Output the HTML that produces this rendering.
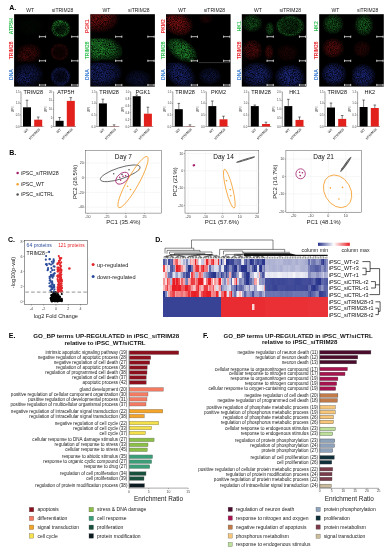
<!DOCTYPE html>
<html><head><meta charset="utf-8"><title>Figure</title>
<style>html,body{margin:0;padding:0;background:#fff;width:389px;height:550px;overflow:hidden}
svg{display:block;filter:blur(0.25px);font-family:"Liberation Sans",Arial,sans-serif}</style></head>
<body><svg width="389" height="550" viewBox="0 0 389 550" font-family="'Liberation Sans', Arial, sans-serif"><defs><radialGradient id="gfill"><stop offset="0" stop-color="#fff" stop-opacity="1"/><stop offset="0.5" stop-color="#fff" stop-opacity="0.85"/><stop offset="0.82" stop-color="#fff" stop-opacity="0.4"/><stop offset="1" stop-color="#fff" stop-opacity="0"/></radialGradient><radialGradient id="gring"><stop offset="0" stop-color="#fff" stop-opacity="0.25"/><stop offset="0.55" stop-color="#fff" stop-opacity="0.45"/><stop offset="0.8" stop-color="#fff" stop-opacity="1"/><stop offset="1" stop-color="#fff" stop-opacity="0"/></radialGradient><filter id="nz" x="0" y="0" width="1" height="1" color-interpolation-filters="sRGB"><feTurbulence type="fractalNoise" baseFrequency="1.25" numOctaves="1" seed="4" result="t"/><feColorMatrix in="t" type="matrix" values="0 0 0 0 0  0 0 0 0 0  0 0 0 0 0  2.2 0 0 0 -0.5" result="a"/><feComposite in="SourceGraphic" in2="a" operator="in" result="s"/><feGaussianBlur in="s" stdDeviation="0.3"/></filter><clipPath id="c1"><rect x="14.1" y="14.2" width="32.3" height="24.1"/></clipPath><mask id="m1_0" maskContentUnits="userSpaceOnUse"><ellipse cx="30" cy="26" rx="14" ry="10" fill="url(#gfill)" transform="rotate(0 30 26)"/></mask><clipPath id="c2"><rect x="46.4" y="14.2" width="32.3" height="24.1"/></clipPath><mask id="m2_0" maskContentUnits="userSpaceOnUse"><ellipse cx="60.7" cy="28.6" rx="10" ry="9.4" fill="url(#gring)" transform="rotate(0 60.7 28.6)"/></mask><mask id="m2_1" maskContentUnits="userSpaceOnUse"><ellipse cx="58" cy="23" rx="6" ry="4" fill="url(#gfill)" transform="rotate(0 58 23)"/></mask><clipPath id="c3"><rect x="14.1" y="38.3" width="32.3" height="24.1"/></clipPath><mask id="m3_0" maskContentUnits="userSpaceOnUse"><ellipse cx="29" cy="53" rx="13" ry="10" fill="url(#gfill)" transform="rotate(0 29 53)"/></mask><mask id="m3_1" maskContentUnits="userSpaceOnUse"><ellipse cx="22" cy="58" rx="8" ry="5" fill="url(#gfill)" transform="rotate(0 22 58)"/></mask><clipPath id="c4"><rect x="46.4" y="38.3" width="32.3" height="24.1"/></clipPath><mask id="m4_0" maskContentUnits="userSpaceOnUse"><ellipse cx="59.5" cy="52" rx="9.5" ry="9" fill="url(#gring)" transform="rotate(0 59.5 52)"/></mask><clipPath id="c5"><rect x="14.1" y="62.4" width="32.3" height="24.2"/></clipPath><mask id="m5_0" maskContentUnits="userSpaceOnUse"><ellipse cx="28" cy="75" rx="16" ry="13" fill="url(#gfill)" transform="rotate(0 28 75)"/></mask><mask id="m5_1" maskContentUnits="userSpaceOnUse"><ellipse cx="22" cy="80" rx="9" ry="6" fill="url(#gfill)" transform="rotate(0 22 80)"/></mask><clipPath id="c6"><rect x="46.4" y="62.4" width="32.3" height="24.2"/></clipPath><mask id="m6_0" maskContentUnits="userSpaceOnUse"><ellipse cx="60.5" cy="76.5" rx="10.5" ry="10" fill="url(#gring)" transform="rotate(0 60.5 76.5)"/></mask><clipPath id="c7"><rect x="90.3" y="14.2" width="32.3" height="24.1"/></clipPath><mask id="m7_0" maskContentUnits="userSpaceOnUse"><ellipse cx="96" cy="16" rx="24" ry="17" fill="url(#gfill)" transform="rotate(10 96 16)"/></mask><mask id="m7_1" maskContentUnits="userSpaceOnUse"><ellipse cx="94" cy="15" rx="10" ry="7" fill="url(#gfill)" transform="rotate(0 94 15)"/></mask><clipPath id="c8"><rect x="90.3" y="38.3" width="32.3" height="24.1"/></clipPath><mask id="m8_0" maskContentUnits="userSpaceOnUse"><ellipse cx="101" cy="47" rx="24" ry="13" fill="url(#gfill)" transform="rotate(18 101 47)"/></mask><mask id="m8_1" maskContentUnits="userSpaceOnUse"><ellipse cx="96" cy="55" rx="9" ry="7" fill="url(#gfill)" transform="rotate(0 96 55)"/></mask><clipPath id="c9"><rect x="90.3" y="62.4" width="32.3" height="24.2"/></clipPath><mask id="m9_0" maskContentUnits="userSpaceOnUse"><ellipse cx="101" cy="73" rx="22" ry="15" fill="url(#gfill)" transform="rotate(0 101 73)"/></mask><clipPath id="c10"><rect x="122.6" y="62.4" width="32.3" height="24.2"/></clipPath><mask id="m10_0" maskContentUnits="userSpaceOnUse"><ellipse cx="138" cy="79" rx="14" ry="10" fill="url(#gfill)" transform="rotate(0 138 79)"/></mask><clipPath id="c11"><rect x="166" y="14.2" width="32.3" height="24.1"/></clipPath><mask id="m11_0" maskContentUnits="userSpaceOnUse"><ellipse cx="178" cy="24" rx="16" ry="12" fill="url(#gfill)" transform="rotate(20 178 24)"/></mask><mask id="m11_1" maskContentUnits="userSpaceOnUse"><ellipse cx="172" cy="20" rx="8" ry="6" fill="url(#gfill)" transform="rotate(0 172 20)"/></mask><clipPath id="c12"><rect x="198.3" y="14.2" width="32.3" height="24.1"/></clipPath><mask id="m12_0" maskContentUnits="userSpaceOnUse"><ellipse cx="206" cy="19" rx="8" ry="5" fill="url(#gfill)" transform="rotate(0 206 19)"/></mask><clipPath id="c13"><rect x="166" y="38.3" width="32.3" height="24.1"/></clipPath><mask id="m13_0" maskContentUnits="userSpaceOnUse"><ellipse cx="182" cy="50" rx="18" ry="10.5" fill="url(#gfill)" transform="rotate(35 182 50)"/></mask><clipPath id="c14"><rect x="166" y="62.4" width="32.3" height="24.2"/></clipPath><mask id="m14_0" maskContentUnits="userSpaceOnUse"><ellipse cx="180" cy="74" rx="18" ry="12.5" fill="url(#gfill)" transform="rotate(40 180 74)"/></mask><clipPath id="c15"><rect x="198.3" y="62.4" width="32.3" height="24.2"/></clipPath><mask id="m15_0" maskContentUnits="userSpaceOnUse"><ellipse cx="210" cy="76" rx="12" ry="9" fill="url(#gfill)" transform="rotate(0 210 76)"/></mask><clipPath id="c16"><rect x="241.8" y="14.2" width="32.3" height="24.1"/></clipPath><mask id="m16_0" maskContentUnits="userSpaceOnUse"><ellipse cx="252" cy="23" rx="11" ry="9.5" fill="url(#gfill)" transform="rotate(0 252 23)"/></mask><mask id="m16_1" maskContentUnits="userSpaceOnUse"><ellipse cx="270" cy="29" rx="5" ry="7.5" fill="url(#gfill)" transform="rotate(0 270 29)"/></mask><clipPath id="c17"><rect x="274.1" y="14.2" width="32.3" height="24.1"/></clipPath><mask id="m17_0" maskContentUnits="userSpaceOnUse"><ellipse cx="290" cy="26" rx="15" ry="11" fill="url(#gring)" transform="rotate(0 290 26)"/></mask><mask id="m17_1" maskContentUnits="userSpaceOnUse"><ellipse cx="288" cy="25" rx="9" ry="7" fill="url(#gfill)" transform="rotate(0 288 25)"/></mask><clipPath id="c18"><rect x="241.8" y="38.3" width="32.3" height="24.1"/></clipPath><mask id="m18_0" maskContentUnits="userSpaceOnUse"><ellipse cx="252" cy="50" rx="11" ry="11" fill="url(#gfill)" transform="rotate(0 252 50)"/></mask><mask id="m18_1" maskContentUnits="userSpaceOnUse"><ellipse cx="269" cy="52" rx="5" ry="8" fill="url(#gfill)" transform="rotate(0 269 52)"/></mask><clipPath id="c19"><rect x="274.1" y="38.3" width="32.3" height="24.1"/></clipPath><mask id="m19_0" maskContentUnits="userSpaceOnUse"><ellipse cx="287" cy="53" rx="12" ry="9" fill="url(#gfill)" transform="rotate(0 287 53)"/></mask><clipPath id="c20"><rect x="241.8" y="62.4" width="32.3" height="24.2"/></clipPath><mask id="m20_0" maskContentUnits="userSpaceOnUse"><ellipse cx="257" cy="75" rx="17" ry="13.5" fill="url(#gfill)" transform="rotate(0 257 75)"/></mask><clipPath id="c21"><rect x="274.1" y="62.4" width="32.3" height="24.2"/></clipPath><mask id="m21_0" maskContentUnits="userSpaceOnUse"><ellipse cx="290" cy="77" rx="16" ry="13" fill="url(#gfill)" transform="rotate(0 290 77)"/></mask><clipPath id="c22"><rect x="319.2" y="14.2" width="32.3" height="24.1"/></clipPath><mask id="m22_0" maskContentUnits="userSpaceOnUse"><ellipse cx="333" cy="24" rx="11" ry="10.5" fill="url(#gfill)" transform="rotate(0 333 24)"/></mask><clipPath id="c23"><rect x="351.5" y="14.2" width="32.3" height="24.1"/></clipPath><mask id="m23_0" maskContentUnits="userSpaceOnUse"><ellipse cx="364" cy="25" rx="10" ry="11.5" fill="url(#gfill)" transform="rotate(0 364 25)"/></mask><clipPath id="c24"><rect x="319.2" y="38.3" width="32.3" height="24.1"/></clipPath><mask id="m24_0" maskContentUnits="userSpaceOnUse"><ellipse cx="333" cy="48" rx="11.5" ry="10.5" fill="url(#gfill)" transform="rotate(0 333 48)"/></mask><clipPath id="c25"><rect x="351.5" y="38.3" width="32.3" height="24.1"/></clipPath><mask id="m25_0" maskContentUnits="userSpaceOnUse"><ellipse cx="362" cy="49" rx="9" ry="9" fill="url(#gfill)" transform="rotate(0 362 49)"/></mask><clipPath id="c26"><rect x="319.2" y="62.4" width="32.3" height="24.2"/></clipPath><mask id="m26_0" maskContentUnits="userSpaceOnUse"><ellipse cx="334" cy="74" rx="13" ry="12.5" fill="url(#gfill)" transform="rotate(0 334 74)"/></mask><clipPath id="c27"><rect x="351.5" y="62.4" width="32.3" height="24.2"/></clipPath><mask id="m27_0" maskContentUnits="userSpaceOnUse"><ellipse cx="363" cy="76" rx="13" ry="12.5" fill="url(#gfill)" transform="rotate(0 363 76)"/></mask><linearGradient id="cbar"><stop offset="0" stop-color="#28348c"/><stop offset="0.5" stop-color="#ffffff"/><stop offset="1" stop-color="#e81e24"/></linearGradient></defs><rect width="389" height="550" fill="#fff"/><text x="9.2" y="9.9" font-size="7" fill="#000" font-weight="bold">A.</text>
<rect x="14.1" y="14.2" width="64.6" height="72.4" fill="#000"/>
<g clip-path="url(#c1)"><g filter="url(#nz)">
<rect x="14.1" y="14.2" width="32.3" height="24.1" fill="none" opacity="0"/>
<rect x="14.1" y="14.2" width="32.3" height="24.1" fill="rgb(45,185,60)" opacity="0.05" mask="url(#m1_0)"/>
</g></g>
<path d="M39 36.7H46M39.4 35.6v2.2M45.6 35.6v2.2" stroke="#c8c8c8" stroke-width="0.9" fill="none"/>
<g clip-path="url(#c2)"><g filter="url(#nz)">
<rect x="46.4" y="14.2" width="32.3" height="24.1" fill="none" opacity="0"/>
<rect x="46.4" y="14.2" width="32.3" height="24.1" fill="rgb(45,185,60)" opacity="0.62" mask="url(#m2_0)"/>
<rect x="46.4" y="14.2" width="32.3" height="24.1" fill="rgb(45,185,60)" opacity="0.35" mask="url(#m2_1)"/>
</g></g>
<path d="M71.3 36.7H78.3M71.7 35.6v2.2M77.9 35.6v2.2" stroke="#c8c8c8" stroke-width="0.9" fill="none"/>
<g clip-path="url(#c3)"><g filter="url(#nz)">
<rect x="14.1" y="38.3" width="32.3" height="24.1" fill="none" opacity="0"/>
<rect x="14.1" y="38.3" width="32.3" height="24.1" fill="rgb(195,28,28)" opacity="0.36" mask="url(#m3_0)"/>
<rect x="14.1" y="38.3" width="32.3" height="24.1" fill="rgb(195,28,28)" opacity="0.2" mask="url(#m3_1)"/>
</g></g>
<path d="M39 60.8H46M39.4 59.7v2.2M45.6 59.7v2.2" stroke="#c8c8c8" stroke-width="0.9" fill="none"/>
<g clip-path="url(#c4)"><g filter="url(#nz)">
<rect x="46.4" y="38.3" width="32.3" height="24.1" fill="none" opacity="0"/>
<rect x="46.4" y="38.3" width="32.3" height="24.1" fill="rgb(195,28,28)" opacity="0.26" mask="url(#m4_0)"/>
</g></g>
<path d="M71.3 60.8H78.3M71.7 59.7v2.2M77.9 59.7v2.2" stroke="#c8c8c8" stroke-width="0.9" fill="none"/>
<g clip-path="url(#c5)"><g filter="url(#nz)">
<rect x="14.1" y="62.4" width="32.3" height="24.2" fill="none" opacity="0"/>
<rect x="14.1" y="62.4" width="32.3" height="24.2" fill="rgb(48,68,205)" opacity="0.42" mask="url(#m5_0)"/>
<rect x="14.1" y="62.4" width="32.3" height="24.2" fill="rgb(48,68,205)" opacity="0.25" mask="url(#m5_1)"/>
</g></g>
<path d="M39 85H46M39.4 83.9v2.2M45.6 83.9v2.2" stroke="#c8c8c8" stroke-width="0.9" fill="none"/>
<g clip-path="url(#c6)"><g filter="url(#nz)">
<rect x="46.4" y="62.4" width="32.3" height="24.2" fill="none" opacity="0"/>
<rect x="46.4" y="62.4" width="32.3" height="24.2" fill="rgb(48,68,205)" opacity="0.48" mask="url(#m6_0)"/>
</g></g>
<path d="M71.3 85H78.3M71.7 83.9v2.2M77.9 83.9v2.2" stroke="#c8c8c8" stroke-width="0.9" fill="none"/>
<text x="30.25" y="12" font-size="5" fill="#222" text-anchor="middle">WT</text>
<text x="62.55" y="12" font-size="5" fill="#222" text-anchor="middle">siTRIM28</text>
<text x="12.9" y="26.25" font-size="5" fill="#2fbf4f" text-anchor="middle" font-weight="bold" transform="rotate(-90 12.9 26.25)">ATP5H</text>
<text x="12.9" y="50.35" font-size="5" fill="#e8262c" text-anchor="middle" font-weight="bold" transform="rotate(-90 12.9 50.35)">TRIM28</text>
<text x="12.9" y="74.5" font-size="5" fill="#3b7fd4" text-anchor="middle" font-weight="bold" transform="rotate(-90 12.9 74.5)">DNA</text>
<rect x="90.3" y="14.2" width="64.6" height="72.4" fill="#000"/>
<g clip-path="url(#c7)"><g filter="url(#nz)">
<rect x="90.3" y="14.2" width="32.3" height="24.1" fill="none" opacity="0"/>
<rect x="90.3" y="14.2" width="32.3" height="24.1" fill="rgb(195,28,28)" opacity="0.62" mask="url(#m7_0)"/>
<rect x="90.3" y="14.2" width="32.3" height="24.1" fill="rgb(195,28,28)" opacity="0.3" mask="url(#m7_1)"/>
</g></g>
<path d="M115.2 36.7H122.2M115.6 35.6v2.2M121.8 35.6v2.2" stroke="#c8c8c8" stroke-width="0.9" fill="none"/>
<path d="M147.5 36.7H154.5M147.9 35.6v2.2M154.1 35.6v2.2" stroke="#c8c8c8" stroke-width="0.9" fill="none"/>
<g clip-path="url(#c8)"><g filter="url(#nz)">
<rect x="90.3" y="38.3" width="32.3" height="24.1" fill="none" opacity="0"/>
<rect x="90.3" y="38.3" width="32.3" height="24.1" fill="rgb(45,185,60)" opacity="0.75" mask="url(#m8_0)"/>
<rect x="90.3" y="38.3" width="32.3" height="24.1" fill="rgb(45,185,60)" opacity="0.4" mask="url(#m8_1)"/>
</g></g>
<path d="M115.2 60.8H122.2M115.6 59.7v2.2M121.8 59.7v2.2" stroke="#c8c8c8" stroke-width="0.9" fill="none"/>
<path d="M147.5 60.8H154.5M147.9 59.7v2.2M154.1 59.7v2.2" stroke="#c8c8c8" stroke-width="0.9" fill="none"/>
<g clip-path="url(#c9)"><g filter="url(#nz)">
<rect x="90.3" y="62.4" width="32.3" height="24.2" fill="none" opacity="0"/>
<rect x="90.3" y="62.4" width="32.3" height="24.2" fill="rgb(48,68,205)" opacity="0.55" mask="url(#m9_0)"/>
</g></g>
<path d="M115.2 85H122.2M115.6 83.9v2.2M121.8 83.9v2.2" stroke="#c8c8c8" stroke-width="0.9" fill="none"/>
<g clip-path="url(#c10)"><g filter="url(#nz)">
<rect x="122.6" y="62.4" width="32.3" height="24.2" fill="none" opacity="0"/>
<rect x="122.6" y="62.4" width="32.3" height="24.2" fill="rgb(48,68,205)" opacity="0.28" mask="url(#m10_0)"/>
</g></g>
<path d="M147.5 85H154.5M147.9 83.9v2.2M154.1 83.9v2.2" stroke="#c8c8c8" stroke-width="0.9" fill="none"/>
<text x="106.45" y="12" font-size="5" fill="#222" text-anchor="middle">WT</text>
<text x="138.75" y="12" font-size="5" fill="#222" text-anchor="middle">siTRIM28</text>
<text x="89.1" y="26.25" font-size="5" fill="#e8262c" text-anchor="middle" font-weight="bold" transform="rotate(-90 89.1 26.25)">PGK1</text>
<text x="89.1" y="50.35" font-size="5" fill="#2fbf4f" text-anchor="middle" font-weight="bold" transform="rotate(-90 89.1 50.35)">TRIM28</text>
<text x="89.1" y="74.5" font-size="5" fill="#3b7fd4" text-anchor="middle" font-weight="bold" transform="rotate(-90 89.1 74.5)">DNA</text>
<rect x="166" y="14.2" width="64.6" height="72.4" fill="#000"/>
<g clip-path="url(#c11)"><g filter="url(#nz)">
<rect x="166" y="14.2" width="32.3" height="24.1" fill="none" opacity="0"/>
<rect x="166" y="14.2" width="32.3" height="24.1" fill="rgb(195,28,28)" opacity="0.66" mask="url(#m11_0)"/>
<rect x="166" y="14.2" width="32.3" height="24.1" fill="rgb(195,28,28)" opacity="0.3" mask="url(#m11_1)"/>
</g></g>
<path d="M190.9 36.7H197.9M191.3 35.6v2.2M197.5 35.6v2.2" stroke="#c8c8c8" stroke-width="0.9" fill="none"/>
<g clip-path="url(#c12)"><g filter="url(#nz)">
<rect x="198.3" y="14.2" width="32.3" height="24.1" fill="none" opacity="0"/>
<rect x="198.3" y="14.2" width="32.3" height="24.1" fill="rgb(195,28,28)" opacity="0.18" mask="url(#m12_0)"/>
</g></g>
<path d="M223.2 36.7H230.2M223.6 35.6v2.2M229.8 35.6v2.2" stroke="#c8c8c8" stroke-width="0.9" fill="none"/>
<g clip-path="url(#c13)"><g filter="url(#nz)">
<rect x="166" y="38.3" width="32.3" height="24.1" fill="none" opacity="0"/>
<rect x="166" y="38.3" width="32.3" height="24.1" fill="rgb(45,185,60)" opacity="0.8" mask="url(#m13_0)"/>
</g></g>
<path d="M190.9 60.8H197.9M191.3 59.7v2.2M197.5 59.7v2.2" stroke="#c8c8c8" stroke-width="0.9" fill="none"/>
<path d="M223.2 60.8H230.2M223.6 59.7v2.2M229.8 59.7v2.2" stroke="#c8c8c8" stroke-width="0.9" fill="none"/>
<g clip-path="url(#c14)"><g filter="url(#nz)">
<rect x="166" y="62.4" width="32.3" height="24.2" fill="none" opacity="0"/>
<rect x="166" y="62.4" width="32.3" height="24.2" fill="rgb(48,68,205)" opacity="0.58" mask="url(#m14_0)"/>
</g></g>
<path d="M190.9 85H197.9M191.3 83.9v2.2M197.5 83.9v2.2" stroke="#c8c8c8" stroke-width="0.9" fill="none"/>
<g clip-path="url(#c15)"><g filter="url(#nz)">
<rect x="198.3" y="62.4" width="32.3" height="24.2" fill="none" opacity="0"/>
<rect x="198.3" y="62.4" width="32.3" height="24.2" fill="rgb(48,68,205)" opacity="0.32" mask="url(#m15_0)"/>
</g></g>
<path d="M223.2 85H230.2M223.6 83.9v2.2M229.8 83.9v2.2" stroke="#c8c8c8" stroke-width="0.9" fill="none"/>
<line x1="198.8" y1="62.6" x2="230.1" y2="62.6" stroke="#666" stroke-width="0.5"/>
<text x="182.15" y="12" font-size="5" fill="#222" text-anchor="middle">WT</text>
<text x="214.45" y="12" font-size="5" fill="#222" text-anchor="middle">siTRIM28</text>
<text x="164.8" y="26.25" font-size="5" fill="#e8262c" text-anchor="middle" font-weight="bold" transform="rotate(-90 164.8 26.25)">PKM2</text>
<text x="164.8" y="50.35" font-size="5" fill="#2fbf4f" text-anchor="middle" font-weight="bold" transform="rotate(-90 164.8 50.35)">TRIM28</text>
<text x="164.8" y="74.5" font-size="5" fill="#3b7fd4" text-anchor="middle" font-weight="bold" transform="rotate(-90 164.8 74.5)">DNA</text>
<rect x="241.8" y="14.2" width="64.6" height="72.4" fill="#000"/>
<g clip-path="url(#c16)"><g filter="url(#nz)">
<rect x="241.8" y="14.2" width="32.3" height="24.1" fill="none" opacity="0"/>
<rect x="241.8" y="14.2" width="32.3" height="24.1" fill="rgb(45,185,60)" opacity="0.48" mask="url(#m16_0)"/>
<rect x="241.8" y="14.2" width="32.3" height="24.1" fill="rgb(45,185,60)" opacity="0.42" mask="url(#m16_1)"/>
</g></g>
<path d="M266.7 36.7H273.7M267.1 35.6v2.2M273.3 35.6v2.2" stroke="#c8c8c8" stroke-width="0.9" fill="none"/>
<g clip-path="url(#c17)"><g filter="url(#nz)">
<rect x="274.1" y="14.2" width="32.3" height="24.1" fill="none" opacity="0"/>
<rect x="274.1" y="14.2" width="32.3" height="24.1" fill="rgb(45,185,60)" opacity="0.48" mask="url(#m17_0)"/>
<rect x="274.1" y="14.2" width="32.3" height="24.1" fill="rgb(45,185,60)" opacity="0.2" mask="url(#m17_1)"/>
</g></g>
<path d="M299 36.7H306M299.4 35.6v2.2M305.6 35.6v2.2" stroke="#c8c8c8" stroke-width="0.9" fill="none"/>
<g clip-path="url(#c18)"><g filter="url(#nz)">
<rect x="241.8" y="38.3" width="32.3" height="24.1" fill="none" opacity="0"/>
<rect x="241.8" y="38.3" width="32.3" height="24.1" fill="rgb(195,28,28)" opacity="0.45" mask="url(#m18_0)"/>
<rect x="241.8" y="38.3" width="32.3" height="24.1" fill="rgb(195,28,28)" opacity="0.38" mask="url(#m18_1)"/>
</g></g>
<path d="M266.7 60.8H273.7M267.1 59.7v2.2M273.3 59.7v2.2" stroke="#c8c8c8" stroke-width="0.9" fill="none"/>
<g clip-path="url(#c19)"><g filter="url(#nz)">
<rect x="274.1" y="38.3" width="32.3" height="24.1" fill="none" opacity="0"/>
<rect x="274.1" y="38.3" width="32.3" height="24.1" fill="rgb(195,28,28)" opacity="0.18" mask="url(#m19_0)"/>
</g></g>
<path d="M299 60.8H306M299.4 59.7v2.2M305.6 59.7v2.2" stroke="#c8c8c8" stroke-width="0.9" fill="none"/>
<g clip-path="url(#c20)"><g filter="url(#nz)">
<rect x="241.8" y="62.4" width="32.3" height="24.2" fill="none" opacity="0"/>
<rect x="241.8" y="62.4" width="32.3" height="24.2" fill="rgb(48,68,205)" opacity="0.6" mask="url(#m20_0)"/>
</g></g>
<path d="M266.7 85H273.7M267.1 83.9v2.2M273.3 83.9v2.2" stroke="#c8c8c8" stroke-width="0.9" fill="none"/>
<g clip-path="url(#c21)"><g filter="url(#nz)">
<rect x="274.1" y="62.4" width="32.3" height="24.2" fill="none" opacity="0"/>
<rect x="274.1" y="62.4" width="32.3" height="24.2" fill="rgb(48,68,205)" opacity="0.68" mask="url(#m21_0)"/>
</g></g>
<path d="M299 85H306M299.4 83.9v2.2M305.6 83.9v2.2" stroke="#c8c8c8" stroke-width="0.9" fill="none"/>
<text x="257.95" y="12" font-size="5" fill="#222" text-anchor="middle">WT</text>
<text x="290.25" y="12" font-size="5" fill="#222" text-anchor="middle">siTRIM28</text>
<text x="240.6" y="26.25" font-size="5" fill="#2fbf4f" text-anchor="middle" font-weight="bold" transform="rotate(-90 240.6 26.25)">HK1</text>
<text x="240.6" y="50.35" font-size="5" fill="#e8262c" text-anchor="middle" font-weight="bold" transform="rotate(-90 240.6 50.35)">TRIM28</text>
<text x="240.6" y="74.5" font-size="5" fill="#3b7fd4" text-anchor="middle" font-weight="bold" transform="rotate(-90 240.6 74.5)">DNA</text>
<rect x="319.2" y="14.2" width="64.6" height="72.4" fill="#000"/>
<g clip-path="url(#c22)"><g filter="url(#nz)">
<rect x="319.2" y="14.2" width="32.3" height="24.1" fill="none" opacity="0"/>
<rect x="319.2" y="14.2" width="32.3" height="24.1" fill="rgb(45,185,60)" opacity="0.52" mask="url(#m22_0)"/>
</g></g>
<path d="M344.1 36.7H351.1M344.5 35.6v2.2M350.7 35.6v2.2" stroke="#c8c8c8" stroke-width="0.9" fill="none"/>
<g clip-path="url(#c23)"><g filter="url(#nz)">
<rect x="351.5" y="14.2" width="32.3" height="24.1" fill="none" opacity="0"/>
<rect x="351.5" y="14.2" width="32.3" height="24.1" fill="rgb(45,185,60)" opacity="0.56" mask="url(#m23_0)"/>
</g></g>
<path d="M376.4 36.7H383.4M376.8 35.6v2.2M383 35.6v2.2" stroke="#c8c8c8" stroke-width="0.9" fill="none"/>
<g clip-path="url(#c24)"><g filter="url(#nz)">
<rect x="319.2" y="38.3" width="32.3" height="24.1" fill="none" opacity="0"/>
<rect x="319.2" y="38.3" width="32.3" height="24.1" fill="rgb(195,28,28)" opacity="0.5" mask="url(#m24_0)"/>
</g></g>
<path d="M344.1 60.8H351.1M344.5 59.7v2.2M350.7 59.7v2.2" stroke="#c8c8c8" stroke-width="0.9" fill="none"/>
<g clip-path="url(#c25)"><g filter="url(#nz)">
<rect x="351.5" y="38.3" width="32.3" height="24.1" fill="none" opacity="0"/>
<rect x="351.5" y="38.3" width="32.3" height="24.1" fill="rgb(195,28,28)" opacity="0.25" mask="url(#m25_0)"/>
</g></g>
<path d="M376.4 60.8H383.4M376.8 59.7v2.2M383 59.7v2.2" stroke="#c8c8c8" stroke-width="0.9" fill="none"/>
<g clip-path="url(#c26)"><g filter="url(#nz)">
<rect x="319.2" y="62.4" width="32.3" height="24.2" fill="none" opacity="0"/>
<rect x="319.2" y="62.4" width="32.3" height="24.2" fill="rgb(48,68,205)" opacity="0.62" mask="url(#m26_0)"/>
</g></g>
<path d="M344.1 85H351.1M344.5 83.9v2.2M350.7 83.9v2.2" stroke="#c8c8c8" stroke-width="0.9" fill="none"/>
<g clip-path="url(#c27)"><g filter="url(#nz)">
<rect x="351.5" y="62.4" width="32.3" height="24.2" fill="none" opacity="0"/>
<rect x="351.5" y="62.4" width="32.3" height="24.2" fill="rgb(48,68,205)" opacity="0.62" mask="url(#m27_0)"/>
</g></g>
<path d="M376.4 85H383.4M376.8 83.9v2.2M383 83.9v2.2" stroke="#c8c8c8" stroke-width="0.9" fill="none"/>
<text x="335.35" y="12" font-size="5" fill="#222" text-anchor="middle">WT</text>
<text x="367.65" y="12" font-size="5" fill="#222" text-anchor="middle">siTRIM28</text>
<text x="318" y="26.25" font-size="5" fill="#2fbf4f" text-anchor="middle" font-weight="bold" transform="rotate(-90 318 26.25)">HK2</text>
<text x="318" y="50.35" font-size="5" fill="#e8262c" text-anchor="middle" font-weight="bold" transform="rotate(-90 318 50.35)">TRIM28</text>
<text x="318" y="74.5" font-size="5" fill="#3b7fd4" text-anchor="middle" font-weight="bold" transform="rotate(-90 318 74.5)">DNA</text>
<text x="33.2" y="93.7" font-size="5.5" fill="#111" text-anchor="middle">TRIM28</text>
<line x1="21" y1="91.8" x2="21" y2="126.5" stroke="#333" stroke-width="0.45"/>
<line x1="21" y1="126.5" x2="43.5" y2="126.5" stroke="#333" stroke-width="0.45"/>
<line x1="20" y1="91.8" x2="21" y2="91.8" stroke="#333" stroke-width="0.4"/>
<text x="19.6" y="92.8" font-size="2.8" fill="#444" text-anchor="end">1.5</text>
<line x1="20" y1="103.37" x2="21" y2="103.37" stroke="#333" stroke-width="0.4"/>
<text x="19.6" y="104.37" font-size="2.8" fill="#444" text-anchor="end">1.0</text>
<line x1="20" y1="114.93" x2="21" y2="114.93" stroke="#333" stroke-width="0.4"/>
<text x="19.6" y="115.93" font-size="2.8" fill="#444" text-anchor="end">0.5</text>
<line x1="20" y1="126.5" x2="21" y2="126.5" stroke="#333" stroke-width="0.4"/>
<text x="19.6" y="127.5" font-size="2.8" fill="#444" text-anchor="end">0.0</text>
<text x="14" y="109.5" font-size="3.4" fill="#333" text-anchor="middle" transform="rotate(-90 14 109.5)">UPI</text>
<rect x="23" y="107.3" width="8" height="19.2" fill="#000"/>
<rect x="34.2" y="119.7" width="8" height="6.8" fill="#e3211c"/>
<line x1="27" y1="100.2" x2="27" y2="107.3" stroke="#000" stroke-width="0.5"/>
<line x1="25.7" y1="100.2" x2="28.3" y2="100.2" stroke="#000" stroke-width="0.5"/>
<line x1="38.2" y1="117" x2="38.2" y2="119.7" stroke="#000" stroke-width="0.5"/>
<line x1="36.9" y1="117" x2="39.5" y2="117" stroke="#000" stroke-width="0.5"/>
<text x="29" y="129.7" font-size="3.4" fill="#222" text-anchor="end" transform="rotate(-45 29 129.7)">WT</text>
<text x="40.4" y="129.7" font-size="3.4" fill="#222" text-anchor="end" transform="rotate(-45 40.4 129.7)">siTRIM28</text>
<text x="65.8" y="93.7" font-size="5.5" fill="#111" text-anchor="middle">ATP5H</text>
<line x1="53.6" y1="91.8" x2="53.6" y2="126.5" stroke="#333" stroke-width="0.45"/>
<line x1="53.6" y1="126.5" x2="76.1" y2="126.5" stroke="#333" stroke-width="0.45"/>
<line x1="52.6" y1="91.8" x2="53.6" y2="91.8" stroke="#333" stroke-width="0.4"/>
<text x="52.2" y="92.8" font-size="2.8" fill="#444" text-anchor="end">20</text>
<line x1="52.6" y1="100.47" x2="53.6" y2="100.47" stroke="#333" stroke-width="0.4"/>
<text x="52.2" y="101.47" font-size="2.8" fill="#444" text-anchor="end">15</text>
<line x1="52.6" y1="109.15" x2="53.6" y2="109.15" stroke="#333" stroke-width="0.4"/>
<text x="52.2" y="110.15" font-size="2.8" fill="#444" text-anchor="end">10</text>
<line x1="52.6" y1="117.83" x2="53.6" y2="117.83" stroke="#333" stroke-width="0.4"/>
<text x="52.2" y="118.83" font-size="2.8" fill="#444" text-anchor="end">5</text>
<line x1="52.6" y1="126.5" x2="53.6" y2="126.5" stroke="#333" stroke-width="0.4"/>
<text x="52.2" y="127.5" font-size="2.8" fill="#444" text-anchor="end">0</text>
<text x="46.6" y="109.5" font-size="3.4" fill="#333" text-anchor="middle" transform="rotate(-90 46.6 109.5)">UPI</text>
<rect x="55.6" y="120.8" width="8" height="5.7" fill="#000"/>
<rect x="66.8" y="100.9" width="8" height="25.6" fill="#e3211c"/>
<line x1="59.6" y1="117.5" x2="59.6" y2="120.8" stroke="#000" stroke-width="0.5"/>
<line x1="58.3" y1="117.5" x2="60.9" y2="117.5" stroke="#000" stroke-width="0.5"/>
<line x1="70.8" y1="97.6" x2="70.8" y2="100.9" stroke="#000" stroke-width="0.5"/>
<line x1="69.5" y1="97.6" x2="72.1" y2="97.6" stroke="#000" stroke-width="0.5"/>
<text x="61.6" y="129.7" font-size="3.4" fill="#222" text-anchor="end" transform="rotate(-45 61.6 129.7)">WT</text>
<text x="73" y="129.7" font-size="3.4" fill="#222" text-anchor="end" transform="rotate(-45 73 129.7)">siTRIM28</text>
<text x="109.1" y="93.7" font-size="5.5" fill="#111" text-anchor="middle">TRIM28</text>
<line x1="96.9" y1="91.8" x2="96.9" y2="126.5" stroke="#333" stroke-width="0.45"/>
<line x1="96.9" y1="126.5" x2="119.4" y2="126.5" stroke="#333" stroke-width="0.45"/>
<line x1="95.9" y1="91.8" x2="96.9" y2="91.8" stroke="#333" stroke-width="0.4"/>
<text x="95.5" y="92.8" font-size="2.8" fill="#444" text-anchor="end">1.5</text>
<line x1="95.9" y1="103.37" x2="96.9" y2="103.37" stroke="#333" stroke-width="0.4"/>
<text x="95.5" y="104.37" font-size="2.8" fill="#444" text-anchor="end">1.0</text>
<line x1="95.9" y1="114.93" x2="96.9" y2="114.93" stroke="#333" stroke-width="0.4"/>
<text x="95.5" y="115.93" font-size="2.8" fill="#444" text-anchor="end">0.5</text>
<line x1="95.9" y1="126.5" x2="96.9" y2="126.5" stroke="#333" stroke-width="0.4"/>
<text x="95.5" y="127.5" font-size="2.8" fill="#444" text-anchor="end">0.0</text>
<text x="89.9" y="109.5" font-size="3.4" fill="#333" text-anchor="middle" transform="rotate(-90 89.9 109.5)">UPI</text>
<rect x="98.9" y="103.4" width="8" height="23.1" fill="#000"/>
<rect x="110.1" y="126.3" width="8" height="0.2" fill="#e3211c"/>
<line x1="102.9" y1="99.2" x2="102.9" y2="103.4" stroke="#000" stroke-width="0.5"/>
<line x1="101.6" y1="99.2" x2="104.2" y2="99.2" stroke="#000" stroke-width="0.5"/>
<line x1="114.1" y1="124.8" x2="114.1" y2="126.3" stroke="#000" stroke-width="0.5"/>
<line x1="112.8" y1="124.8" x2="115.4" y2="124.8" stroke="#000" stroke-width="0.5"/>
<text x="104.9" y="129.7" font-size="3.4" fill="#222" text-anchor="end" transform="rotate(-45 104.9 129.7)">WT</text>
<text x="116.3" y="129.7" font-size="3.4" fill="#222" text-anchor="end" transform="rotate(-45 116.3 129.7)">siTRIM28</text>
<text x="142.9" y="93.7" font-size="5.5" fill="#111" text-anchor="middle">PGK1</text>
<line x1="130.7" y1="91.8" x2="130.7" y2="126.5" stroke="#333" stroke-width="0.45"/>
<line x1="130.7" y1="126.5" x2="153.2" y2="126.5" stroke="#333" stroke-width="0.45"/>
<line x1="129.7" y1="91.8" x2="130.7" y2="91.8" stroke="#333" stroke-width="0.4"/>
<text x="129.3" y="92.8" font-size="2.8" fill="#444" text-anchor="end">1.0</text>
<line x1="129.7" y1="98.74" x2="130.7" y2="98.74" stroke="#333" stroke-width="0.4"/>
<text x="129.3" y="99.74" font-size="2.8" fill="#444" text-anchor="end">0.8</text>
<line x1="129.7" y1="105.68" x2="130.7" y2="105.68" stroke="#333" stroke-width="0.4"/>
<text x="129.3" y="106.68" font-size="2.8" fill="#444" text-anchor="end">0.6</text>
<line x1="129.7" y1="112.62" x2="130.7" y2="112.62" stroke="#333" stroke-width="0.4"/>
<text x="129.3" y="113.62" font-size="2.8" fill="#444" text-anchor="end">0.4</text>
<line x1="129.7" y1="119.56" x2="130.7" y2="119.56" stroke="#333" stroke-width="0.4"/>
<text x="129.3" y="120.56" font-size="2.8" fill="#444" text-anchor="end">0.2</text>
<line x1="129.7" y1="126.5" x2="130.7" y2="126.5" stroke="#333" stroke-width="0.4"/>
<text x="129.3" y="127.5" font-size="2.8" fill="#444" text-anchor="end">0.0</text>
<text x="123.7" y="109.5" font-size="3.4" fill="#333" text-anchor="middle" transform="rotate(-90 123.7 109.5)">UPI</text>
<rect x="132.7" y="96.2" width="8" height="30.3" fill="#000"/>
<rect x="143.9" y="113.7" width="8" height="12.8" fill="#e3211c"/>
<line x1="136.7" y1="95" x2="136.7" y2="96.2" stroke="#000" stroke-width="0.5"/>
<line x1="135.4" y1="95" x2="138" y2="95" stroke="#000" stroke-width="0.5"/>
<line x1="147.9" y1="107.2" x2="147.9" y2="113.7" stroke="#000" stroke-width="0.5"/>
<line x1="146.6" y1="107.2" x2="149.2" y2="107.2" stroke="#000" stroke-width="0.5"/>
<text x="138.7" y="129.7" font-size="3.4" fill="#222" text-anchor="end" transform="rotate(-45 138.7 129.7)">WT</text>
<text x="150.1" y="129.7" font-size="3.4" fill="#222" text-anchor="end" transform="rotate(-45 150.1 129.7)">siTRIM28</text>
<text x="185" y="93.7" font-size="5.5" fill="#111" text-anchor="middle">TRIM28</text>
<line x1="172.8" y1="91.8" x2="172.8" y2="126.5" stroke="#333" stroke-width="0.45"/>
<line x1="172.8" y1="126.5" x2="195.3" y2="126.5" stroke="#333" stroke-width="0.45"/>
<line x1="171.8" y1="91.8" x2="172.8" y2="91.8" stroke="#333" stroke-width="0.4"/>
<text x="171.4" y="92.8" font-size="2.8" fill="#444" text-anchor="end">1.5</text>
<line x1="171.8" y1="103.37" x2="172.8" y2="103.37" stroke="#333" stroke-width="0.4"/>
<text x="171.4" y="104.37" font-size="2.8" fill="#444" text-anchor="end">1.0</text>
<line x1="171.8" y1="114.93" x2="172.8" y2="114.93" stroke="#333" stroke-width="0.4"/>
<text x="171.4" y="115.93" font-size="2.8" fill="#444" text-anchor="end">0.5</text>
<line x1="171.8" y1="126.5" x2="172.8" y2="126.5" stroke="#333" stroke-width="0.4"/>
<text x="171.4" y="127.5" font-size="2.8" fill="#444" text-anchor="end">0.0</text>
<text x="165.8" y="109.5" font-size="3.4" fill="#333" text-anchor="middle" transform="rotate(-90 165.8 109.5)">UPI</text>
<rect x="174.8" y="109.2" width="8" height="17.3" fill="#000"/>
<rect x="186" y="126.3" width="8" height="0.2" fill="#e3211c"/>
<line x1="178.8" y1="103.4" x2="178.8" y2="109.2" stroke="#000" stroke-width="0.5"/>
<line x1="177.5" y1="103.4" x2="180.1" y2="103.4" stroke="#000" stroke-width="0.5"/>
<line x1="190" y1="124.8" x2="190" y2="126.3" stroke="#000" stroke-width="0.5"/>
<line x1="188.7" y1="124.8" x2="191.3" y2="124.8" stroke="#000" stroke-width="0.5"/>
<text x="180.8" y="129.7" font-size="3.4" fill="#222" text-anchor="end" transform="rotate(-45 180.8 129.7)">WT</text>
<text x="192.2" y="129.7" font-size="3.4" fill="#222" text-anchor="end" transform="rotate(-45 192.2 129.7)">siTRIM28</text>
<text x="218.5" y="93.7" font-size="5.5" fill="#111" text-anchor="middle">PKM2</text>
<line x1="206.3" y1="91.8" x2="206.3" y2="126.5" stroke="#333" stroke-width="0.45"/>
<line x1="206.3" y1="126.5" x2="228.8" y2="126.5" stroke="#333" stroke-width="0.45"/>
<line x1="205.3" y1="91.8" x2="206.3" y2="91.8" stroke="#333" stroke-width="0.4"/>
<text x="204.9" y="92.8" font-size="2.8" fill="#444" text-anchor="end">1.5</text>
<line x1="205.3" y1="103.37" x2="206.3" y2="103.37" stroke="#333" stroke-width="0.4"/>
<text x="204.9" y="104.37" font-size="2.8" fill="#444" text-anchor="end">1.0</text>
<line x1="205.3" y1="114.93" x2="206.3" y2="114.93" stroke="#333" stroke-width="0.4"/>
<text x="204.9" y="115.93" font-size="2.8" fill="#444" text-anchor="end">0.5</text>
<line x1="205.3" y1="126.5" x2="206.3" y2="126.5" stroke="#333" stroke-width="0.4"/>
<text x="204.9" y="127.5" font-size="2.8" fill="#444" text-anchor="end">0.0</text>
<text x="199.3" y="109.5" font-size="3.4" fill="#333" text-anchor="middle" transform="rotate(-90 199.3 109.5)">UPI</text>
<rect x="208.3" y="106.1" width="8" height="20.4" fill="#000"/>
<rect x="219.5" y="119.3" width="8" height="7.2" fill="#e3211c"/>
<line x1="212.3" y1="101" x2="212.3" y2="106.1" stroke="#000" stroke-width="0.5"/>
<line x1="211" y1="101" x2="213.6" y2="101" stroke="#000" stroke-width="0.5"/>
<line x1="223.5" y1="116.2" x2="223.5" y2="119.3" stroke="#000" stroke-width="0.5"/>
<line x1="222.2" y1="116.2" x2="224.8" y2="116.2" stroke="#000" stroke-width="0.5"/>
<text x="214.3" y="129.7" font-size="3.4" fill="#222" text-anchor="end" transform="rotate(-45 214.3 129.7)">WT</text>
<text x="225.7" y="129.7" font-size="3.4" fill="#222" text-anchor="end" transform="rotate(-45 225.7 129.7)">siTRIM28</text>
<text x="261" y="93.7" font-size="5.5" fill="#111" text-anchor="middle">TRIM28</text>
<line x1="248.8" y1="91.8" x2="248.8" y2="126.5" stroke="#333" stroke-width="0.45"/>
<line x1="248.8" y1="126.5" x2="271.3" y2="126.5" stroke="#333" stroke-width="0.45"/>
<line x1="247.8" y1="91.8" x2="248.8" y2="91.8" stroke="#333" stroke-width="0.4"/>
<text x="247.4" y="92.8" font-size="2.8" fill="#444" text-anchor="end">1.5</text>
<line x1="247.8" y1="103.37" x2="248.8" y2="103.37" stroke="#333" stroke-width="0.4"/>
<text x="247.4" y="104.37" font-size="2.8" fill="#444" text-anchor="end">1.0</text>
<line x1="247.8" y1="114.93" x2="248.8" y2="114.93" stroke="#333" stroke-width="0.4"/>
<text x="247.4" y="115.93" font-size="2.8" fill="#444" text-anchor="end">0.5</text>
<line x1="247.8" y1="126.5" x2="248.8" y2="126.5" stroke="#333" stroke-width="0.4"/>
<text x="247.4" y="127.5" font-size="2.8" fill="#444" text-anchor="end">0.0</text>
<text x="241.8" y="109.5" font-size="3.4" fill="#333" text-anchor="middle" transform="rotate(-90 241.8 109.5)">UPI</text>
<rect x="250.8" y="106.1" width="8" height="20.4" fill="#000"/>
<rect x="262" y="124" width="8" height="2.5" fill="#e3211c"/>
<line x1="254.8" y1="105" x2="254.8" y2="106.1" stroke="#000" stroke-width="0.5"/>
<line x1="253.5" y1="105" x2="256.1" y2="105" stroke="#000" stroke-width="0.5"/>
<line x1="266" y1="122.2" x2="266" y2="124" stroke="#000" stroke-width="0.5"/>
<line x1="264.7" y1="122.2" x2="267.3" y2="122.2" stroke="#000" stroke-width="0.5"/>
<text x="256.8" y="129.7" font-size="3.4" fill="#222" text-anchor="end" transform="rotate(-45 256.8 129.7)">WT</text>
<text x="268.2" y="129.7" font-size="3.4" fill="#222" text-anchor="end" transform="rotate(-45 268.2 129.7)">siTRIM28</text>
<text x="294.5" y="93.7" font-size="5.5" fill="#111" text-anchor="middle">HK1</text>
<line x1="282.3" y1="91.8" x2="282.3" y2="126.5" stroke="#333" stroke-width="0.45"/>
<line x1="282.3" y1="126.5" x2="304.8" y2="126.5" stroke="#333" stroke-width="0.45"/>
<line x1="281.3" y1="91.8" x2="282.3" y2="91.8" stroke="#333" stroke-width="0.4"/>
<text x="280.9" y="92.8" font-size="2.8" fill="#444" text-anchor="end">2.0</text>
<line x1="281.3" y1="100.47" x2="282.3" y2="100.47" stroke="#333" stroke-width="0.4"/>
<text x="280.9" y="101.47" font-size="2.8" fill="#444" text-anchor="end">1.5</text>
<line x1="281.3" y1="109.15" x2="282.3" y2="109.15" stroke="#333" stroke-width="0.4"/>
<text x="280.9" y="110.15" font-size="2.8" fill="#444" text-anchor="end">1.0</text>
<line x1="281.3" y1="117.83" x2="282.3" y2="117.83" stroke="#333" stroke-width="0.4"/>
<text x="280.9" y="118.83" font-size="2.8" fill="#444" text-anchor="end">0.5</text>
<line x1="281.3" y1="126.5" x2="282.3" y2="126.5" stroke="#333" stroke-width="0.4"/>
<text x="280.9" y="127.5" font-size="2.8" fill="#444" text-anchor="end">0.0</text>
<text x="275.3" y="109.5" font-size="3.4" fill="#333" text-anchor="middle" transform="rotate(-90 275.3 109.5)">UPI</text>
<rect x="284.3" y="106.1" width="8" height="20.4" fill="#000"/>
<rect x="295.5" y="119.9" width="8" height="6.6" fill="#e3211c"/>
<line x1="288.3" y1="99.3" x2="288.3" y2="106.1" stroke="#000" stroke-width="0.5"/>
<line x1="287" y1="99.3" x2="289.6" y2="99.3" stroke="#000" stroke-width="0.5"/>
<line x1="299.5" y1="117" x2="299.5" y2="119.9" stroke="#000" stroke-width="0.5"/>
<line x1="298.2" y1="117" x2="300.8" y2="117" stroke="#000" stroke-width="0.5"/>
<text x="290.3" y="129.7" font-size="3.4" fill="#222" text-anchor="end" transform="rotate(-45 290.3 129.7)">WT</text>
<text x="301.7" y="129.7" font-size="3.4" fill="#222" text-anchor="end" transform="rotate(-45 301.7 129.7)">siTRIM28</text>
<text x="337.2" y="93.7" font-size="5.5" fill="#111" text-anchor="middle">TRIM28</text>
<line x1="325" y1="91.8" x2="325" y2="126.5" stroke="#333" stroke-width="0.45"/>
<line x1="325" y1="126.5" x2="347.5" y2="126.5" stroke="#333" stroke-width="0.45"/>
<line x1="324" y1="91.8" x2="325" y2="91.8" stroke="#333" stroke-width="0.4"/>
<text x="323.6" y="92.8" font-size="2.8" fill="#444" text-anchor="end">1.5</text>
<line x1="324" y1="103.37" x2="325" y2="103.37" stroke="#333" stroke-width="0.4"/>
<text x="323.6" y="104.37" font-size="2.8" fill="#444" text-anchor="end">1.0</text>
<line x1="324" y1="114.93" x2="325" y2="114.93" stroke="#333" stroke-width="0.4"/>
<text x="323.6" y="115.93" font-size="2.8" fill="#444" text-anchor="end">0.5</text>
<line x1="324" y1="126.5" x2="325" y2="126.5" stroke="#333" stroke-width="0.4"/>
<text x="323.6" y="127.5" font-size="2.8" fill="#444" text-anchor="end">0.0</text>
<text x="318" y="109.5" font-size="3.4" fill="#333" text-anchor="middle" transform="rotate(-90 318 109.5)">UPI</text>
<rect x="327" y="107.5" width="8" height="19" fill="#000"/>
<rect x="338.2" y="118.9" width="8" height="7.6" fill="#e3211c"/>
<line x1="331" y1="103" x2="331" y2="107.5" stroke="#000" stroke-width="0.5"/>
<line x1="329.7" y1="103" x2="332.3" y2="103" stroke="#000" stroke-width="0.5"/>
<line x1="342.2" y1="115.5" x2="342.2" y2="118.9" stroke="#000" stroke-width="0.5"/>
<line x1="340.9" y1="115.5" x2="343.5" y2="115.5" stroke="#000" stroke-width="0.5"/>
<text x="333" y="129.7" font-size="3.4" fill="#222" text-anchor="end" transform="rotate(-45 333 129.7)">WT</text>
<text x="344.4" y="129.7" font-size="3.4" fill="#222" text-anchor="end" transform="rotate(-45 344.4 129.7)">siTRIM28</text>
<text x="369.8" y="93.7" font-size="5.5" fill="#111" text-anchor="middle">HK2</text>
<line x1="357.6" y1="91.8" x2="357.6" y2="126.5" stroke="#333" stroke-width="0.45"/>
<line x1="357.6" y1="126.5" x2="380.1" y2="126.5" stroke="#333" stroke-width="0.45"/>
<line x1="356.6" y1="91.8" x2="357.6" y2="91.8" stroke="#333" stroke-width="0.4"/>
<text x="356.2" y="92.8" font-size="2.8" fill="#444" text-anchor="end">1.5</text>
<line x1="356.6" y1="103.37" x2="357.6" y2="103.37" stroke="#333" stroke-width="0.4"/>
<text x="356.2" y="104.37" font-size="2.8" fill="#444" text-anchor="end">1.0</text>
<line x1="356.6" y1="114.93" x2="357.6" y2="114.93" stroke="#333" stroke-width="0.4"/>
<text x="356.2" y="115.93" font-size="2.8" fill="#444" text-anchor="end">0.5</text>
<line x1="356.6" y1="126.5" x2="357.6" y2="126.5" stroke="#333" stroke-width="0.4"/>
<text x="356.2" y="127.5" font-size="2.8" fill="#444" text-anchor="end">0.0</text>
<text x="350.6" y="109.5" font-size="3.4" fill="#333" text-anchor="middle" transform="rotate(-90 350.6 109.5)">UPI</text>
<rect x="359.6" y="107" width="8" height="19.5" fill="#000"/>
<rect x="370.8" y="108" width="8" height="18.5" fill="#e3211c"/>
<line x1="363.6" y1="100" x2="363.6" y2="107" stroke="#000" stroke-width="0.5"/>
<line x1="362.3" y1="100" x2="364.9" y2="100" stroke="#000" stroke-width="0.5"/>
<line x1="374.8" y1="105" x2="374.8" y2="108" stroke="#000" stroke-width="0.5"/>
<line x1="373.5" y1="105" x2="376.1" y2="105" stroke="#000" stroke-width="0.5"/>
<text x="365.6" y="129.7" font-size="3.4" fill="#222" text-anchor="end" transform="rotate(-45 365.6 129.7)">WT</text>
<text x="377" y="129.7" font-size="3.4" fill="#222" text-anchor="end" transform="rotate(-45 377 129.7)">siTRIM28</text>
<text x="9.2" y="154.9" font-size="7" fill="#000" font-weight="bold">B.</text>
<circle cx="17.6" cy="172.9" r="1.25" fill="#a3206e"/>
<text x="21" y="174.75" font-size="5.3" fill="#1a1a1a">iPSC_siTRIM28</text>
<circle cx="17.6" cy="184.2" r="1.25" fill="#f5a133"/>
<text x="21" y="186.05" font-size="5.3" fill="#1a1a1a">iPSC_WT</text>
<circle cx="17.6" cy="194.5" r="1.25" fill="#555555"/>
<text x="21" y="196.35" font-size="5.3" fill="#1a1a1a">iPSC_siCTRL</text>
<rect x="85.4" y="150.7" width="75.9" height="62.4" fill="#fff" stroke="#444" stroke-width="0.45"/>
<line x1="87.95" y1="150.7" x2="87.95" y2="213.1" stroke="#ececec" stroke-width="0.4"/>
<line x1="106.83" y1="150.7" x2="106.83" y2="213.1" stroke="#ececec" stroke-width="0.4"/>
<line x1="125.7" y1="150.7" x2="125.7" y2="213.1" stroke="#ececec" stroke-width="0.4"/>
<line x1="144.57" y1="150.7" x2="144.57" y2="213.1" stroke="#ececec" stroke-width="0.4"/>
<line x1="85.4" y1="162.96" x2="161.3" y2="162.96" stroke="#ececec" stroke-width="0.4"/>
<line x1="85.4" y1="177.7" x2="161.3" y2="177.7" stroke="#ececec" stroke-width="0.4"/>
<line x1="85.4" y1="192.44" x2="161.3" y2="192.44" stroke="#ececec" stroke-width="0.4"/>
<line x1="85.4" y1="207.18" x2="161.3" y2="207.18" stroke="#ececec" stroke-width="0.4"/>
<line x1="87.95" y1="213.1" x2="87.95" y2="214.1" stroke="#444" stroke-width="0.4"/>
<text x="87.95" y="218.1" font-size="3.7" fill="#444" text-anchor="middle">-50</text>
<line x1="106.83" y1="213.1" x2="106.83" y2="214.1" stroke="#444" stroke-width="0.4"/>
<text x="106.83" y="218.1" font-size="3.7" fill="#444" text-anchor="middle">-25</text>
<line x1="125.7" y1="213.1" x2="125.7" y2="214.1" stroke="#444" stroke-width="0.4"/>
<text x="125.7" y="218.1" font-size="3.7" fill="#444" text-anchor="middle">0</text>
<line x1="144.57" y1="213.1" x2="144.57" y2="214.1" stroke="#444" stroke-width="0.4"/>
<text x="144.57" y="218.1" font-size="3.7" fill="#444" text-anchor="middle">25</text>
<line x1="84.4" y1="162.96" x2="85.4" y2="162.96" stroke="#444" stroke-width="0.4"/>
<text x="83.8" y="164.26" font-size="3.7" fill="#444" text-anchor="end">20</text>
<line x1="84.4" y1="177.7" x2="85.4" y2="177.7" stroke="#444" stroke-width="0.4"/>
<text x="83.8" y="179" font-size="3.7" fill="#444" text-anchor="end">0</text>
<line x1="84.4" y1="192.44" x2="85.4" y2="192.44" stroke="#444" stroke-width="0.4"/>
<text x="83.8" y="193.74" font-size="3.7" fill="#444" text-anchor="end">-20</text>
<line x1="84.4" y1="207.18" x2="85.4" y2="207.18" stroke="#444" stroke-width="0.4"/>
<text x="83.8" y="208.48" font-size="3.7" fill="#444" text-anchor="end">-40</text>
<text x="123.35" y="158.6" font-size="6.5" fill="#111" text-anchor="middle">Day 7</text>
<text x="123.35" y="223.6" font-size="6" fill="#222" text-anchor="middle">PC1 (35.4%)</text>
<text x="77.3" y="181.9" font-size="6" fill="#222" text-anchor="middle" transform="rotate(-90 77.3 181.9)">PC2 (26.5%)</text>
<ellipse cx="120.2" cy="173.3" rx="20.8" ry="5.6" transform="rotate(-18 120.2 173.3)" fill="none" stroke="#555555" stroke-width="0.8"/>
<ellipse cx="133" cy="182.1" rx="29.2" ry="5.8" transform="rotate(-60.8 133 182.1)" fill="none" stroke="#f5a133" stroke-width="0.8"/>
<ellipse cx="122.2" cy="178.2" rx="7.5" ry="4.6" transform="rotate(-40 122.2 178.2)" fill="none" stroke="#a3206e" stroke-width="0.8"/>
<circle cx="113.7" cy="173.8" r="0.8" fill="#555555"/>
<circle cx="129" cy="169.8" r="0.8" fill="#555555"/>
<circle cx="122" cy="174.5" r="0.8" fill="#555555"/>
<circle cx="138.9" cy="169.8" r="0.8" fill="#f5a133"/>
<circle cx="127.6" cy="186.2" r="0.8" fill="#f5a133"/>
<circle cx="130.5" cy="189.6" r="0.8" fill="#f5a133"/>
<circle cx="119.7" cy="177.3" r="0.8" fill="#a3206e"/>
<circle cx="123" cy="176.3" r="0.8" fill="#a3206e"/>
<circle cx="125.6" cy="175.7" r="0.8" fill="#a3206e"/>
<circle cx="120.6" cy="180.1" r="0.8" fill="#a3206e"/>
<rect x="185" y="150.7" width="73.8" height="62.4" fill="#fff" stroke="#444" stroke-width="0.45"/>
<line x1="188.15" y1="150.7" x2="188.15" y2="213.1" stroke="#ececec" stroke-width="0.4"/>
<line x1="205.35" y1="150.7" x2="205.35" y2="213.1" stroke="#ececec" stroke-width="0.4"/>
<line x1="222.55" y1="150.7" x2="222.55" y2="213.1" stroke="#ececec" stroke-width="0.4"/>
<line x1="239.75" y1="150.7" x2="239.75" y2="213.1" stroke="#ececec" stroke-width="0.4"/>
<line x1="256.95" y1="150.7" x2="256.95" y2="213.1" stroke="#ececec" stroke-width="0.4"/>
<line x1="185" y1="153.5" x2="258.8" y2="153.5" stroke="#ececec" stroke-width="0.4"/>
<line x1="185" y1="170.8" x2="258.8" y2="170.8" stroke="#ececec" stroke-width="0.4"/>
<line x1="185" y1="188.1" x2="258.8" y2="188.1" stroke="#ececec" stroke-width="0.4"/>
<line x1="185" y1="205.4" x2="258.8" y2="205.4" stroke="#ececec" stroke-width="0.4"/>
<line x1="188.15" y1="213.1" x2="188.15" y2="214.1" stroke="#444" stroke-width="0.4"/>
<text x="188.15" y="218.1" font-size="3.7" fill="#444" text-anchor="middle">-20</text>
<line x1="205.35" y1="213.1" x2="205.35" y2="214.1" stroke="#444" stroke-width="0.4"/>
<text x="205.35" y="218.1" font-size="3.7" fill="#444" text-anchor="middle">-10</text>
<line x1="222.55" y1="213.1" x2="222.55" y2="214.1" stroke="#444" stroke-width="0.4"/>
<text x="222.55" y="218.1" font-size="3.7" fill="#444" text-anchor="middle">0</text>
<line x1="239.75" y1="213.1" x2="239.75" y2="214.1" stroke="#444" stroke-width="0.4"/>
<text x="239.75" y="218.1" font-size="3.7" fill="#444" text-anchor="middle">10</text>
<line x1="256.95" y1="213.1" x2="256.95" y2="214.1" stroke="#444" stroke-width="0.4"/>
<text x="256.95" y="218.1" font-size="3.7" fill="#444" text-anchor="middle">20</text>
<line x1="184" y1="153.5" x2="185" y2="153.5" stroke="#444" stroke-width="0.4"/>
<text x="183.4" y="154.8" font-size="3.7" fill="#444" text-anchor="end">10</text>
<line x1="184" y1="170.8" x2="185" y2="170.8" stroke="#444" stroke-width="0.4"/>
<text x="183.4" y="172.1" font-size="3.7" fill="#444" text-anchor="end">0</text>
<line x1="184" y1="188.1" x2="185" y2="188.1" stroke="#444" stroke-width="0.4"/>
<text x="183.4" y="189.4" font-size="3.7" fill="#444" text-anchor="end">-10</text>
<line x1="184" y1="205.4" x2="185" y2="205.4" stroke="#444" stroke-width="0.4"/>
<text x="183.4" y="206.7" font-size="3.7" fill="#444" text-anchor="end">-20</text>
<text x="223.5" y="158.6" font-size="6.5" fill="#111" text-anchor="middle">Day 14</text>
<text x="221.9" y="223.6" font-size="6" fill="#222" text-anchor="middle">PC1 (57.6%)</text>
<text x="177" y="181.9" font-size="6" fill="#222" text-anchor="middle" transform="rotate(-90 177 181.9)">PC2 (21%)</text>
<ellipse cx="245.6" cy="159.6" rx="9.4" ry="0.45" transform="rotate(-17 245.6 159.6)" fill="none" stroke="#555555" stroke-width="0.85"/>
<ellipse cx="229.3" cy="188.7" rx="20" ry="3.4" transform="rotate(76 229.3 188.7)" fill="none" stroke="#f5a133" stroke-width="0.8"/>
<circle cx="193.7" cy="165.4" r="1.1" fill="#a3206e"/>
<circle cx="194.3" cy="165.2" r="0.9" fill="#a3206e"/>
<circle cx="240" cy="161.6" r="0.6" fill="#555555"/>
<circle cx="246" cy="159.6" r="0.6" fill="#555555"/>
<circle cx="252" cy="157.8" r="0.6" fill="#555555"/>
<circle cx="226.5" cy="180.8" r="0.8" fill="#f5a133"/>
<circle cx="230.2" cy="189.6" r="0.8" fill="#f5a133"/>
<circle cx="230.8" cy="195.7" r="0.8" fill="#f5a133"/>
<rect x="285.9" y="150.7" width="75.4" height="61.7" fill="#fff" stroke="#444" stroke-width="0.45"/>
<line x1="293.66" y1="150.7" x2="293.66" y2="212.4" stroke="#ececec" stroke-width="0.4"/>
<line x1="311.03" y1="150.7" x2="311.03" y2="212.4" stroke="#ececec" stroke-width="0.4"/>
<line x1="328.4" y1="150.7" x2="328.4" y2="212.4" stroke="#ececec" stroke-width="0.4"/>
<line x1="345.77" y1="150.7" x2="345.77" y2="212.4" stroke="#ececec" stroke-width="0.4"/>
<line x1="285.9" y1="159.1" x2="361.3" y2="159.1" stroke="#ececec" stroke-width="0.4"/>
<line x1="285.9" y1="176.5" x2="361.3" y2="176.5" stroke="#ececec" stroke-width="0.4"/>
<line x1="285.9" y1="193.9" x2="361.3" y2="193.9" stroke="#ececec" stroke-width="0.4"/>
<line x1="285.9" y1="211.3" x2="361.3" y2="211.3" stroke="#ececec" stroke-width="0.4"/>
<line x1="293.66" y1="212.4" x2="293.66" y2="213.4" stroke="#444" stroke-width="0.4"/>
<text x="293.66" y="217.4" font-size="3.7" fill="#444" text-anchor="middle">-20</text>
<line x1="311.03" y1="212.4" x2="311.03" y2="213.4" stroke="#444" stroke-width="0.4"/>
<text x="311.03" y="217.4" font-size="3.7" fill="#444" text-anchor="middle">-10</text>
<line x1="328.4" y1="212.4" x2="328.4" y2="213.4" stroke="#444" stroke-width="0.4"/>
<text x="328.4" y="217.4" font-size="3.7" fill="#444" text-anchor="middle">0</text>
<line x1="345.77" y1="212.4" x2="345.77" y2="213.4" stroke="#444" stroke-width="0.4"/>
<text x="345.77" y="217.4" font-size="3.7" fill="#444" text-anchor="middle">10</text>
<line x1="284.9" y1="159.1" x2="285.9" y2="159.1" stroke="#444" stroke-width="0.4"/>
<text x="284.3" y="160.4" font-size="3.7" fill="#444" text-anchor="end">10</text>
<line x1="284.9" y1="176.5" x2="285.9" y2="176.5" stroke="#444" stroke-width="0.4"/>
<text x="284.3" y="177.8" font-size="3.7" fill="#444" text-anchor="end">0</text>
<line x1="284.9" y1="193.9" x2="285.9" y2="193.9" stroke="#444" stroke-width="0.4"/>
<text x="284.3" y="195.2" font-size="3.7" fill="#444" text-anchor="end">-10</text>
<line x1="284.9" y1="211.3" x2="285.9" y2="211.3" stroke="#444" stroke-width="0.4"/>
<text x="284.3" y="212.6" font-size="3.7" fill="#444" text-anchor="end">-20</text>
<text x="323.6" y="158.6" font-size="6.5" fill="#111" text-anchor="middle">Day 21</text>
<text x="323.6" y="223.6" font-size="6" fill="#222" text-anchor="middle">PC1 (48.1%)</text>
<text x="277" y="181.55" font-size="6" fill="#222" text-anchor="middle" transform="rotate(-90 277 181.55)">PC2 (16.7%)</text>
<ellipse cx="300.6" cy="173.8" rx="4.7" ry="5" transform="rotate(0 300.6 173.8)" fill="none" stroke="#a3206e" stroke-width="0.8"/>
<ellipse cx="345.8" cy="164.3" rx="8.8" ry="0.6" transform="rotate(-54 345.8 164.3)" fill="none" stroke="#555555" stroke-width="1"/>
<ellipse cx="337.6" cy="191.3" rx="13" ry="17.3" transform="rotate(-30 337.6 191.3)" fill="none" stroke="#f5a133" stroke-width="0.8"/>
<circle cx="299.6" cy="172.2" r="0.8" fill="#a3206e"/>
<circle cx="302.4" cy="172.8" r="0.8" fill="#a3206e"/>
<circle cx="300.2" cy="175.6" r="0.8" fill="#a3206e"/>
<circle cx="342" cy="168.5" r="0.6" fill="#555555"/>
<circle cx="346" cy="163.5" r="0.6" fill="#555555"/>
<circle cx="349.5" cy="159.3" r="0.6" fill="#555555"/>
<circle cx="330.4" cy="187.9" r="0.8" fill="#f5a133"/>
<circle cx="342.5" cy="187.4" r="0.8" fill="#f5a133"/>
<circle cx="338.9" cy="199" r="0.8" fill="#f5a133"/>
<text x="8" y="242" font-size="7" fill="#000" font-weight="bold">C.</text>
<rect x="24.3" y="240.7" width="63" height="63.7" fill="#fff" stroke="#333" stroke-width="0.5"/>
<line x1="31.31" y1="304.4" x2="31.31" y2="305.5" stroke="#333" stroke-width="0.4"/>
<text x="31.31" y="310.2" font-size="3.6" fill="#444" text-anchor="middle">-4</text>
<line x1="43.63" y1="304.4" x2="43.63" y2="305.5" stroke="#333" stroke-width="0.4"/>
<text x="43.63" y="310.2" font-size="3.6" fill="#444" text-anchor="middle">-2</text>
<line x1="55.95" y1="304.4" x2="55.95" y2="305.5" stroke="#333" stroke-width="0.4"/>
<text x="55.95" y="310.2" font-size="3.6" fill="#444" text-anchor="middle">0</text>
<line x1="68.27" y1="304.4" x2="68.27" y2="305.5" stroke="#333" stroke-width="0.4"/>
<text x="68.27" y="310.2" font-size="3.6" fill="#444" text-anchor="middle">2</text>
<line x1="80.59" y1="304.4" x2="80.59" y2="305.5" stroke="#333" stroke-width="0.4"/>
<text x="80.59" y="310.2" font-size="3.6" fill="#444" text-anchor="middle">4</text>
<line x1="23.2" y1="301.4" x2="24.3" y2="301.4" stroke="#333" stroke-width="0.4"/>
<text x="22.5" y="302.7" font-size="3.6" fill="#444" text-anchor="end">0</text>
<line x1="23.2" y1="286.4" x2="24.3" y2="286.4" stroke="#333" stroke-width="0.4"/>
<text x="22.5" y="287.7" font-size="3.6" fill="#444" text-anchor="end">2</text>
<line x1="23.2" y1="271.4" x2="24.3" y2="271.4" stroke="#333" stroke-width="0.4"/>
<text x="22.5" y="272.7" font-size="3.6" fill="#444" text-anchor="end">4</text>
<line x1="23.2" y1="256.4" x2="24.3" y2="256.4" stroke="#333" stroke-width="0.4"/>
<text x="22.5" y="257.7" font-size="3.6" fill="#444" text-anchor="end">6</text>
<line x1="23.2" y1="241.4" x2="24.3" y2="241.4" stroke="#333" stroke-width="0.4"/>
<text x="22.5" y="242.7" font-size="3.6" fill="#444" text-anchor="end">8</text>
<text x="55.8" y="318" font-size="5.6" fill="#222" text-anchor="middle">log2 Fold Change</text>
<text x="14.8" y="272.5" font-size="5.6" fill="#222" text-anchor="middle" transform="rotate(-90 14.8 272.5)">-log10(p-val)</text>
<circle cx="52.48" cy="299.84" r="1.05" fill="#000"/>
<circle cx="58.22" cy="299.28" r="1.05" fill="#000"/>
<circle cx="52.2" cy="301.13" r="1.05" fill="#000"/>
<circle cx="56.88" cy="296.87" r="1.05" fill="#000"/>
<circle cx="52.5" cy="296.07" r="1.05" fill="#000"/>
<circle cx="57.47" cy="299.44" r="1.05" fill="#000"/>
<circle cx="59.61" cy="297.35" r="1.05" fill="#000"/>
<circle cx="55.38" cy="300.27" r="1.05" fill="#000"/>
<circle cx="61.8" cy="300.21" r="1.05" fill="#000"/>
<circle cx="53.61" cy="296.7" r="1.05" fill="#000"/>
<circle cx="55.89" cy="300.8" r="1.05" fill="#000"/>
<circle cx="54.75" cy="301.14" r="1.05" fill="#000"/>
<circle cx="56.35" cy="298.54" r="1.05" fill="#000"/>
<circle cx="58.48" cy="300.53" r="1.05" fill="#000"/>
<circle cx="51.01" cy="298.51" r="1.05" fill="#000"/>
<circle cx="51.97" cy="300.69" r="1.05" fill="#000"/>
<circle cx="51.83" cy="301.39" r="1.05" fill="#000"/>
<circle cx="53.63" cy="300.52" r="1.05" fill="#000"/>
<circle cx="61.8" cy="301.2" r="1.05" fill="#000"/>
<circle cx="57.82" cy="295.94" r="1.05" fill="#000"/>
<circle cx="54.9" cy="298.67" r="1.05" fill="#000"/>
<circle cx="55.4" cy="299.87" r="1.05" fill="#000"/>
<circle cx="55.91" cy="297.25" r="1.05" fill="#000"/>
<circle cx="57.1" cy="298.05" r="1.05" fill="#000"/>
<circle cx="60.48" cy="299.32" r="1.05" fill="#000"/>
<circle cx="57.42" cy="301.39" r="1.05" fill="#000"/>
<circle cx="58.11" cy="298.92" r="1.05" fill="#000"/>
<circle cx="58.23" cy="300.89" r="1.05" fill="#000"/>
<circle cx="58.91" cy="298.83" r="1.05" fill="#000"/>
<circle cx="56.01" cy="298.18" r="1.05" fill="#000"/>
<circle cx="57.63" cy="299.47" r="1.05" fill="#000"/>
<circle cx="59.89" cy="299.84" r="1.05" fill="#000"/>
<circle cx="57.08" cy="299.3" r="1.05" fill="#000"/>
<circle cx="56.37" cy="300.54" r="1.05" fill="#000"/>
<circle cx="56.11" cy="298.93" r="1.05" fill="#000"/>
<circle cx="53.02" cy="299.76" r="1.05" fill="#000"/>
<circle cx="57.17" cy="295.17" r="1.05" fill="#000"/>
<circle cx="58.17" cy="297.06" r="1.05" fill="#000"/>
<circle cx="57.65" cy="298.52" r="1.05" fill="#000"/>
<circle cx="56.12" cy="298.22" r="1.05" fill="#000"/>
<circle cx="60.23" cy="300.05" r="1.05" fill="#000"/>
<circle cx="53.85" cy="293.31" r="1.05" fill="#000"/>
<circle cx="56.28" cy="297.39" r="1.05" fill="#000"/>
<circle cx="57.9" cy="296.72" r="1.05" fill="#000"/>
<circle cx="61.8" cy="294.07" r="1.05" fill="#000"/>
<circle cx="56.1" cy="298.3" r="1.05" fill="#000"/>
<circle cx="55.97" cy="297.75" r="1.05" fill="#000"/>
<circle cx="55.35" cy="299.86" r="1.05" fill="#000"/>
<circle cx="58.53" cy="298.47" r="1.05" fill="#000"/>
<circle cx="55.8" cy="295.81" r="1.05" fill="#000"/>
<circle cx="53.67" cy="298.13" r="1.05" fill="#000"/>
<circle cx="58.52" cy="300.2" r="1.05" fill="#000"/>
<circle cx="51.01" cy="297.66" r="1.05" fill="#000"/>
<circle cx="56.26" cy="299.22" r="1.05" fill="#000"/>
<circle cx="59.65" cy="297.26" r="1.05" fill="#000"/>
<circle cx="55.65" cy="298.72" r="1.05" fill="#000"/>
<circle cx="55.23" cy="292.02" r="1.05" fill="#000"/>
<circle cx="57.73" cy="292.02" r="1.05" fill="#000"/>
<circle cx="58.24" cy="297.62" r="1.05" fill="#000"/>
<circle cx="54.58" cy="300.48" r="1.05" fill="#000"/>
<circle cx="61.8" cy="298.85" r="1.05" fill="#000"/>
<circle cx="55.94" cy="294.98" r="1.05" fill="#000"/>
<circle cx="55.43" cy="293.72" r="1.05" fill="#000"/>
<circle cx="53.87" cy="299.44" r="1.05" fill="#000"/>
<circle cx="57.51" cy="295.52" r="1.05" fill="#000"/>
<circle cx="57.33" cy="300.16" r="1.05" fill="#000"/>
<circle cx="50.93" cy="298.46" r="1.05" fill="#000"/>
<circle cx="54.06" cy="299.2" r="1.05" fill="#000"/>
<circle cx="57.16" cy="300.02" r="1.05" fill="#000"/>
<circle cx="57.68" cy="301.06" r="1.05" fill="#000"/>
<circle cx="54.78" cy="300.91" r="1.05" fill="#000"/>
<circle cx="56.75" cy="297.86" r="1.05" fill="#000"/>
<circle cx="54.41" cy="300.44" r="1.05" fill="#000"/>
<circle cx="52.11" cy="294.78" r="1.05" fill="#000"/>
<circle cx="59.4" cy="300.66" r="1.05" fill="#000"/>
<circle cx="54.4" cy="296.3" r="1.05" fill="#000"/>
<circle cx="56.08" cy="300.55" r="1.05" fill="#000"/>
<circle cx="61.29" cy="300.38" r="1.05" fill="#000"/>
<circle cx="53.63" cy="292.02" r="1.05" fill="#000"/>
<circle cx="59.29" cy="300.62" r="1.05" fill="#000"/>
<circle cx="51.48" cy="300.66" r="1.05" fill="#000"/>
<circle cx="51.48" cy="292.02" r="1.05" fill="#000"/>
<circle cx="58.54" cy="299.04" r="1.05" fill="#000"/>
<circle cx="55.19" cy="292.57" r="1.05" fill="#000"/>
<circle cx="55.31" cy="294.99" r="1.05" fill="#000"/>
<circle cx="57.18" cy="292.58" r="1.05" fill="#000"/>
<circle cx="53.29" cy="296.37" r="1.05" fill="#000"/>
<circle cx="59.89" cy="296.53" r="1.05" fill="#000"/>
<circle cx="51.67" cy="297.77" r="1.05" fill="#000"/>
<circle cx="57.85" cy="297.33" r="1.05" fill="#000"/>
<circle cx="53.85" cy="298.54" r="1.05" fill="#000"/>
<circle cx="52.56" cy="298.59" r="1.05" fill="#000"/>
<circle cx="58.88" cy="298.56" r="1.05" fill="#000"/>
<circle cx="60.96" cy="301.04" r="1.05" fill="#000"/>
<circle cx="55.29" cy="297.35" r="1.05" fill="#000"/>
<circle cx="55.32" cy="295.98" r="1.05" fill="#000"/>
<circle cx="51.04" cy="298.52" r="1.05" fill="#000"/>
<circle cx="59.37" cy="297.95" r="1.05" fill="#000"/>
<circle cx="59.09" cy="300.36" r="1.05" fill="#000"/>
<circle cx="53.78" cy="301.04" r="1.05" fill="#000"/>
<circle cx="54.67" cy="296.82" r="1.05" fill="#000"/>
<circle cx="51.26" cy="295.28" r="1.05" fill="#000"/>
<circle cx="55.63" cy="300.78" r="1.05" fill="#000"/>
<circle cx="54.41" cy="295.51" r="1.05" fill="#000"/>
<circle cx="56.11" cy="299" r="1.05" fill="#000"/>
<circle cx="58.79" cy="298.02" r="1.05" fill="#000"/>
<circle cx="50.55" cy="298.3" r="1.05" fill="#000"/>
<circle cx="53.86" cy="295.99" r="1.05" fill="#000"/>
<circle cx="56.52" cy="297.25" r="1.05" fill="#000"/>
<circle cx="57.62" cy="292.82" r="1.05" fill="#000"/>
<circle cx="57.5" cy="298.62" r="1.05" fill="#000"/>
<circle cx="53.69" cy="299.61" r="1.05" fill="#000"/>
<circle cx="57.63" cy="297.75" r="1.05" fill="#000"/>
<circle cx="58.26" cy="294.55" r="1.05" fill="#000"/>
<circle cx="54.11" cy="292.02" r="1.05" fill="#000"/>
<circle cx="55.38" cy="298.92" r="1.05" fill="#000"/>
<circle cx="53.67" cy="300.39" r="1.05" fill="#000"/>
<circle cx="56.24" cy="297.24" r="1.05" fill="#000"/>
<circle cx="53.52" cy="297.98" r="1.05" fill="#000"/>
<circle cx="53.67" cy="294.17" r="1.05" fill="#000"/>
<circle cx="58.46" cy="300.89" r="1.05" fill="#000"/>
<circle cx="56.23" cy="300.93" r="1.05" fill="#000"/>
<circle cx="56.17" cy="300.54" r="1.05" fill="#000"/>
<circle cx="54.78" cy="296.22" r="1.05" fill="#000"/>
<circle cx="53.98" cy="294.59" r="1.05" fill="#000"/>
<circle cx="57.03" cy="301.13" r="1.05" fill="#000"/>
<circle cx="55.09" cy="301.14" r="1.05" fill="#000"/>
<circle cx="56.56" cy="298.74" r="1.05" fill="#000"/>
<circle cx="56.15" cy="300.41" r="1.05" fill="#000"/>
<circle cx="53.71" cy="298.15" r="1.05" fill="#000"/>
<circle cx="53.06" cy="297.01" r="1.05" fill="#000"/>
<circle cx="57.94" cy="292.02" r="1.05" fill="#000"/>
<circle cx="54.95" cy="298.88" r="1.05" fill="#000"/>
<circle cx="54.04" cy="301" r="1.05" fill="#000"/>
<circle cx="58.56" cy="301.08" r="1.05" fill="#000"/>
<circle cx="55.28" cy="298.87" r="1.05" fill="#000"/>
<circle cx="55.31" cy="297.64" r="1.05" fill="#000"/>
<circle cx="54.62" cy="296.67" r="1.05" fill="#000"/>
<circle cx="52.37" cy="296.83" r="1.05" fill="#000"/>
<circle cx="52.05" cy="296.87" r="1.05" fill="#000"/>
<circle cx="56.56" cy="300.42" r="1.05" fill="#000"/>
<circle cx="59.42" cy="298.69" r="1.05" fill="#000"/>
<circle cx="57.59" cy="298.1" r="1.05" fill="#000"/>
<circle cx="51.64" cy="294.98" r="1.05" fill="#000"/>
<circle cx="53.24" cy="297.66" r="1.05" fill="#000"/>
<circle cx="59" cy="296.34" r="1.05" fill="#000"/>
<circle cx="58.35" cy="299.82" r="1.05" fill="#000"/>
<circle cx="54.62" cy="299.13" r="1.05" fill="#000"/>
<circle cx="54.8" cy="293.9" r="1.05" fill="#000"/>
<circle cx="53.05" cy="296.3" r="1.05" fill="#000"/>
<circle cx="56.91" cy="292.78" r="1.05" fill="#000"/>
<circle cx="61.8" cy="300.01" r="1.05" fill="#000"/>
<circle cx="51.19" cy="299.72" r="1.05" fill="#000"/>
<circle cx="53.21" cy="293.22" r="1.05" fill="#000"/>
<circle cx="57.12" cy="298.39" r="1.05" fill="#000"/>
<circle cx="58.06" cy="299.19" r="1.05" fill="#000"/>
<circle cx="51.44" cy="299.21" r="1.05" fill="#000"/>
<circle cx="55.02" cy="301.32" r="1.05" fill="#000"/>
<circle cx="55.98" cy="300" r="1.05" fill="#000"/>
<circle cx="56.13" cy="298.98" r="1.05" fill="#000"/>
<circle cx="53.32" cy="295.15" r="1.05" fill="#000"/>
<circle cx="56.57" cy="299.59" r="1.05" fill="#000"/>
<circle cx="51.52" cy="300.71" r="1.05" fill="#000"/>
<circle cx="57.76" cy="296.07" r="1.05" fill="#000"/>
<circle cx="58.48" cy="299.79" r="1.05" fill="#000"/>
<circle cx="56.68" cy="300.85" r="1.05" fill="#000"/>
<circle cx="56.21" cy="296.44" r="1.05" fill="#000"/>
<circle cx="54.6" cy="294.95" r="1.05" fill="#000"/>
<circle cx="53.62" cy="297.56" r="1.05" fill="#000"/>
<circle cx="57.48" cy="297" r="1.05" fill="#000"/>
<circle cx="52.53" cy="283.32" r="1.05" fill="#2b4c9b"/>
<circle cx="46.7" cy="264.07" r="1.05" fill="#2b4c9b"/>
<circle cx="50.28" cy="286.51" r="1.05" fill="#2b4c9b"/>
<circle cx="49.63" cy="259.17" r="1.05" fill="#2b4c9b"/>
<circle cx="53.27" cy="274.35" r="1.05" fill="#2b4c9b"/>
<circle cx="51.2" cy="275.68" r="1.05" fill="#2b4c9b"/>
<circle cx="54.51" cy="273.18" r="1.05" fill="#2b4c9b"/>
<circle cx="49.71" cy="259.14" r="1.05" fill="#2b4c9b"/>
<circle cx="49.73" cy="280.39" r="1.05" fill="#2b4c9b"/>
<circle cx="51.2" cy="274.72" r="1.05" fill="#2b4c9b"/>
<circle cx="54.2" cy="269.99" r="1.05" fill="#2b4c9b"/>
<circle cx="51.82" cy="275.58" r="1.05" fill="#2b4c9b"/>
<circle cx="45.82" cy="259.64" r="1.05" fill="#2b4c9b"/>
<circle cx="52.11" cy="284.66" r="1.05" fill="#2b4c9b"/>
<circle cx="52.62" cy="288.81" r="1.05" fill="#2b4c9b"/>
<circle cx="46.87" cy="265.22" r="1.05" fill="#2b4c9b"/>
<circle cx="52.61" cy="277.78" r="1.05" fill="#2b4c9b"/>
<circle cx="51.54" cy="287.01" r="1.05" fill="#2b4c9b"/>
<circle cx="53.5" cy="260.9" r="1.05" fill="#2b4c9b"/>
<circle cx="54.52" cy="266.63" r="1.05" fill="#2b4c9b"/>
<circle cx="53.55" cy="286.93" r="1.05" fill="#2b4c9b"/>
<circle cx="52.17" cy="270.14" r="1.05" fill="#2b4c9b"/>
<circle cx="51.01" cy="281.9" r="1.05" fill="#2b4c9b"/>
<circle cx="51.25" cy="289.4" r="1.05" fill="#2b4c9b"/>
<circle cx="52.26" cy="288.93" r="1.05" fill="#2b4c9b"/>
<circle cx="53.64" cy="285.24" r="1.05" fill="#2b4c9b"/>
<circle cx="51.68" cy="275.88" r="1.05" fill="#2b4c9b"/>
<circle cx="52.2" cy="281.22" r="1.05" fill="#2b4c9b"/>
<circle cx="53.61" cy="275.92" r="1.05" fill="#2b4c9b"/>
<circle cx="51.44" cy="286.63" r="1.05" fill="#2b4c9b"/>
<circle cx="50.69" cy="271.95" r="1.05" fill="#2b4c9b"/>
<circle cx="49.25" cy="263.83" r="1.05" fill="#2b4c9b"/>
<circle cx="52.63" cy="263.61" r="1.05" fill="#2b4c9b"/>
<circle cx="48.04" cy="268.11" r="1.05" fill="#2b4c9b"/>
<circle cx="51.79" cy="261.8" r="1.05" fill="#2b4c9b"/>
<circle cx="49.4" cy="283.21" r="1.05" fill="#2b4c9b"/>
<circle cx="49.46" cy="286.22" r="1.05" fill="#2b4c9b"/>
<circle cx="53.49" cy="262.4" r="1.05" fill="#2b4c9b"/>
<circle cx="50.82" cy="285.58" r="1.05" fill="#2b4c9b"/>
<circle cx="54.19" cy="284.96" r="1.05" fill="#2b4c9b"/>
<circle cx="51" cy="264.58" r="1.05" fill="#2b4c9b"/>
<circle cx="53.64" cy="266.22" r="1.05" fill="#2b4c9b"/>
<circle cx="50.45" cy="280.32" r="1.05" fill="#2b4c9b"/>
<circle cx="53.83" cy="291.38" r="1.05" fill="#2b4c9b"/>
<circle cx="47.54" cy="270.31" r="1.05" fill="#2b4c9b"/>
<circle cx="53.6" cy="259.18" r="1.05" fill="#2b4c9b"/>
<circle cx="49.55" cy="276.76" r="1.05" fill="#2b4c9b"/>
<circle cx="50.05" cy="276.86" r="1.05" fill="#2b4c9b"/>
<circle cx="54.36" cy="287.08" r="1.05" fill="#2b4c9b"/>
<circle cx="54.54" cy="289.36" r="1.05" fill="#2b4c9b"/>
<circle cx="51.07" cy="275.12" r="1.05" fill="#2b4c9b"/>
<circle cx="53.66" cy="274.5" r="1.05" fill="#2b4c9b"/>
<circle cx="53.68" cy="287.21" r="1.05" fill="#2b4c9b"/>
<circle cx="45.93" cy="264.26" r="1.05" fill="#2b4c9b"/>
<circle cx="53.82" cy="260.84" r="1.05" fill="#2b4c9b"/>
<circle cx="50.37" cy="290.45" r="1.05" fill="#2b4c9b"/>
<circle cx="49.69" cy="278.29" r="1.05" fill="#2b4c9b"/>
<circle cx="52" cy="282.83" r="1.05" fill="#2b4c9b"/>
<circle cx="51.76" cy="276.42" r="1.05" fill="#2b4c9b"/>
<circle cx="54.62" cy="273.33" r="1.05" fill="#2b4c9b"/>
<circle cx="47.97" cy="269.61" r="1.05" fill="#2b4c9b"/>
<circle cx="52.41" cy="287.3" r="1.05" fill="#2b4c9b"/>
<circle cx="51.38" cy="268.16" r="1.05" fill="#2b4c9b"/>
<circle cx="53.87" cy="286.9" r="1.05" fill="#2b4c9b"/>
<circle cx="57.8" cy="280.07" r="1.05" fill="#e3262a"/>
<circle cx="60.22" cy="267.95" r="1.05" fill="#e3262a"/>
<circle cx="59.9" cy="265.1" r="1.05" fill="#e3262a"/>
<circle cx="60.08" cy="283.72" r="1.05" fill="#e3262a"/>
<circle cx="60.65" cy="258.83" r="1.05" fill="#e3262a"/>
<circle cx="61.57" cy="287.78" r="1.05" fill="#e3262a"/>
<circle cx="60.69" cy="269.06" r="1.05" fill="#e3262a"/>
<circle cx="61.59" cy="283.68" r="1.05" fill="#e3262a"/>
<circle cx="60.49" cy="272.8" r="1.05" fill="#e3262a"/>
<circle cx="58.93" cy="269.65" r="1.05" fill="#e3262a"/>
<circle cx="57.49" cy="271.58" r="1.05" fill="#e3262a"/>
<circle cx="59.21" cy="285.59" r="1.05" fill="#e3262a"/>
<circle cx="60.32" cy="285.2" r="1.05" fill="#e3262a"/>
<circle cx="61.67" cy="288.39" r="1.05" fill="#e3262a"/>
<circle cx="60.38" cy="285.7" r="1.05" fill="#e3262a"/>
<circle cx="59.48" cy="279.31" r="1.05" fill="#e3262a"/>
<circle cx="60.21" cy="275.03" r="1.05" fill="#e3262a"/>
<circle cx="61.41" cy="269.81" r="1.05" fill="#e3262a"/>
<circle cx="60.29" cy="291.57" r="1.05" fill="#e3262a"/>
<circle cx="58.94" cy="287.82" r="1.05" fill="#e3262a"/>
<circle cx="58.86" cy="289.17" r="1.05" fill="#e3262a"/>
<circle cx="61.43" cy="287.96" r="1.05" fill="#e3262a"/>
<circle cx="61.7" cy="280.24" r="1.05" fill="#e3262a"/>
<circle cx="59.93" cy="258.16" r="1.05" fill="#e3262a"/>
<circle cx="57.51" cy="267.58" r="1.05" fill="#e3262a"/>
<circle cx="60.46" cy="276.84" r="1.05" fill="#e3262a"/>
<circle cx="61.29" cy="291.41" r="1.05" fill="#e3262a"/>
<circle cx="58.22" cy="281.51" r="1.05" fill="#e3262a"/>
<circle cx="57.43" cy="276.3" r="1.05" fill="#e3262a"/>
<circle cx="59" cy="260.81" r="1.05" fill="#e3262a"/>
<circle cx="59.99" cy="279.55" r="1.05" fill="#e3262a"/>
<circle cx="60.35" cy="287.1" r="1.05" fill="#e3262a"/>
<circle cx="60.45" cy="287.16" r="1.05" fill="#e3262a"/>
<circle cx="58.26" cy="291.61" r="1.05" fill="#e3262a"/>
<circle cx="60.68" cy="289.91" r="1.05" fill="#e3262a"/>
<circle cx="60.41" cy="263.26" r="1.05" fill="#e3262a"/>
<circle cx="62.03" cy="291.37" r="1.05" fill="#e3262a"/>
<circle cx="61.35" cy="291.13" r="1.05" fill="#e3262a"/>
<circle cx="61.53" cy="281.3" r="1.05" fill="#e3262a"/>
<circle cx="61.67" cy="279.67" r="1.05" fill="#e3262a"/>
<circle cx="61.91" cy="281.62" r="1.05" fill="#e3262a"/>
<circle cx="57.68" cy="276.6" r="1.05" fill="#e3262a"/>
<circle cx="59.15" cy="275.77" r="1.05" fill="#e3262a"/>
<circle cx="57.73" cy="289" r="1.05" fill="#e3262a"/>
<circle cx="59.5" cy="290.45" r="1.05" fill="#e3262a"/>
<circle cx="58.67" cy="282.06" r="1.05" fill="#e3262a"/>
<circle cx="60.86" cy="283.24" r="1.05" fill="#e3262a"/>
<circle cx="61.29" cy="258.03" r="1.05" fill="#e3262a"/>
<circle cx="58.21" cy="271.06" r="1.05" fill="#e3262a"/>
<circle cx="61.51" cy="290.61" r="1.05" fill="#e3262a"/>
<circle cx="58.73" cy="275.74" r="1.05" fill="#e3262a"/>
<circle cx="60.48" cy="287.46" r="1.05" fill="#e3262a"/>
<circle cx="59.91" cy="277.08" r="1.05" fill="#e3262a"/>
<circle cx="58" cy="270.2" r="1.05" fill="#e3262a"/>
<circle cx="61.97" cy="288" r="1.05" fill="#e3262a"/>
<circle cx="57.35" cy="264.2" r="1.05" fill="#e3262a"/>
<circle cx="58.61" cy="291.27" r="1.05" fill="#e3262a"/>
<circle cx="57.62" cy="275.81" r="1.05" fill="#e3262a"/>
<circle cx="57.55" cy="279" r="1.05" fill="#e3262a"/>
<circle cx="59.56" cy="273.6" r="1.05" fill="#e3262a"/>
<circle cx="58.79" cy="275.49" r="1.05" fill="#e3262a"/>
<circle cx="58.3" cy="281.27" r="1.05" fill="#e3262a"/>
<circle cx="60.8" cy="270.58" r="1.05" fill="#e3262a"/>
<circle cx="58.2" cy="291.12" r="1.05" fill="#e3262a"/>
<circle cx="60.5" cy="275.79" r="1.05" fill="#e3262a"/>
<circle cx="59.17" cy="288.8" r="1.05" fill="#e3262a"/>
<circle cx="58.77" cy="267.57" r="1.05" fill="#e3262a"/>
<circle cx="61.45" cy="274.56" r="1.05" fill="#e3262a"/>
<circle cx="60.01" cy="286.05" r="1.05" fill="#e3262a"/>
<circle cx="59.03" cy="262.07" r="1.05" fill="#e3262a"/>
<circle cx="58.14" cy="284.8" r="1.05" fill="#e3262a"/>
<circle cx="57.89" cy="291.07" r="1.05" fill="#e3262a"/>
<circle cx="60.32" cy="281.05" r="1.05" fill="#e3262a"/>
<circle cx="57.51" cy="269.18" r="1.05" fill="#e3262a"/>
<circle cx="60.09" cy="288.8" r="1.05" fill="#e3262a"/>
<circle cx="60.74" cy="286.63" r="1.05" fill="#e3262a"/>
<circle cx="58.02" cy="287.17" r="1.05" fill="#e3262a"/>
<circle cx="58.76" cy="271.43" r="1.05" fill="#e3262a"/>
<circle cx="60.59" cy="290.55" r="1.05" fill="#e3262a"/>
<circle cx="61.24" cy="262.19" r="1.05" fill="#e3262a"/>
<circle cx="59.07" cy="262.45" r="1.05" fill="#e3262a"/>
<circle cx="58.5" cy="267.89" r="1.05" fill="#e3262a"/>
<circle cx="59.48" cy="286.26" r="1.05" fill="#e3262a"/>
<circle cx="58.25" cy="263.4" r="1.05" fill="#e3262a"/>
<circle cx="58.98" cy="285.02" r="1.05" fill="#e3262a"/>
<circle cx="58.97" cy="284" r="1.05" fill="#e3262a"/>
<circle cx="60.62" cy="278.16" r="1.05" fill="#e3262a"/>
<circle cx="61.14" cy="279.04" r="1.05" fill="#e3262a"/>
<circle cx="61" cy="289.54" r="1.05" fill="#e3262a"/>
<circle cx="57.6" cy="287.21" r="1.05" fill="#e3262a"/>
<circle cx="60.22" cy="278.9" r="1.05" fill="#e3262a"/>
<circle cx="60.65" cy="274.66" r="1.05" fill="#e3262a"/>
<circle cx="60.03" cy="291.23" r="1.05" fill="#e3262a"/>
<circle cx="57.99" cy="291.01" r="1.05" fill="#e3262a"/>
<circle cx="57.55" cy="263.18" r="1.05" fill="#e3262a"/>
<circle cx="57.8" cy="275.37" r="1.05" fill="#e3262a"/>
<circle cx="59.98" cy="270.54" r="1.05" fill="#e3262a"/>
<circle cx="58.6" cy="288.08" r="1.05" fill="#e3262a"/>
<circle cx="60.72" cy="279.74" r="1.05" fill="#e3262a"/>
<circle cx="61.77" cy="285.7" r="1.05" fill="#e3262a"/>
<circle cx="59.94" cy="280.74" r="1.05" fill="#e3262a"/>
<circle cx="61.13" cy="272.22" r="1.05" fill="#e3262a"/>
<circle cx="61.16" cy="283.53" r="1.05" fill="#e3262a"/>
<circle cx="60.66" cy="265.46" r="1.05" fill="#e3262a"/>
<circle cx="61.01" cy="266.42" r="1.05" fill="#e3262a"/>
<circle cx="59.94" cy="260.15" r="1.05" fill="#e3262a"/>
<circle cx="60.74" cy="279.65" r="1.05" fill="#e3262a"/>
<circle cx="59.09" cy="283.18" r="1.05" fill="#e3262a"/>
<circle cx="61.46" cy="270.75" r="1.05" fill="#e3262a"/>
<circle cx="58.03" cy="284.61" r="1.05" fill="#e3262a"/>
<circle cx="59.04" cy="283.07" r="1.05" fill="#e3262a"/>
<circle cx="58.58" cy="291.28" r="1.05" fill="#e3262a"/>
<circle cx="60.53" cy="274.79" r="1.05" fill="#e3262a"/>
<circle cx="57.73" cy="289.49" r="1.05" fill="#e3262a"/>
<circle cx="61.1" cy="277.37" r="1.05" fill="#e3262a"/>
<circle cx="57.76" cy="291.48" r="1.05" fill="#e3262a"/>
<circle cx="58.64" cy="288.71" r="1.05" fill="#e3262a"/>
<circle cx="58.15" cy="276.95" r="1.05" fill="#e3262a"/>
<circle cx="58.5" cy="289.38" r="1.05" fill="#e3262a"/>
<circle cx="58.53" cy="270.01" r="1.05" fill="#e3262a"/>
<circle cx="60.71" cy="278.75" r="1.05" fill="#e3262a"/>
<circle cx="49.11" cy="251.9" r="1.05" fill="#2b4c9b"/>
<circle cx="46.09" cy="256.1" r="1.05" fill="#2b4c9b"/>
<circle cx="58.78" cy="256.1" r="1.05" fill="#e3262a"/>
<circle cx="59.65" cy="257.9" r="1.05" fill="#e3262a"/>
<circle cx="69.38" cy="268.47" r="1.3" fill="#e3262a"/>
<line x1="25.3" y1="292.1" x2="87.3" y2="292.1" stroke="#777" stroke-width="0.8" stroke-dasharray="3.6,2.2"/>
<text x="26.6" y="246.5" font-size="5.1" fill="#2b4c9b">64 proteins</text>
<text x="58.2" y="246.5" font-size="4.8" fill="#e3262a">121 proteins</text>
<text x="26.6" y="254.8" font-size="5.1" fill="#111">TRIM28</text>
<line x1="45.4" y1="253" x2="48.2" y2="252" stroke="#111" stroke-width="0.4"/>
<circle cx="93.1" cy="264.6" r="1.5" fill="#e3262a"/>
<text x="97" y="266.5" font-size="5.6" fill="#222">up-regulated</text>
<circle cx="93.1" cy="276.6" r="1.5" fill="#2b4c9b"/>
<text x="97" y="278.5" font-size="5.6" fill="#222">down-regulated</text>
<text x="155.3" y="241.6" font-size="7" fill="#000" font-weight="bold">D.</text>
<g shape-rendering="crispEdges">
<rect x="163.3" y="258.9" width="2.44" height="7.21" fill="#4d57a0"/>
<rect x="164.94" y="258.9" width="2.44" height="7.21" fill="#8088bb"/>
<rect x="166.59" y="258.9" width="2.44" height="7.21" fill="#d5d7e8"/>
<rect x="168.23" y="258.9" width="2.44" height="7.21" fill="#404b99"/>
<rect x="169.88" y="258.9" width="2.44" height="7.21" fill="#646dac"/>
<rect x="171.52" y="258.9" width="2.44" height="7.21" fill="#4e58a0"/>
<rect x="173.16" y="258.9" width="2.44" height="7.21" fill="#f6a7a9"/>
<rect x="174.81" y="258.9" width="2.44" height="7.21" fill="#f06d71"/>
<rect x="176.45" y="258.9" width="2.44" height="7.21" fill="#ee595e"/>
<rect x="178.1" y="258.9" width="2.44" height="7.21" fill="#facdce"/>
<rect x="179.74" y="258.9" width="2.44" height="7.21" fill="#f9c6c7"/>
<rect x="181.38" y="258.9" width="2.44" height="7.21" fill="#dfe1ee"/>
<rect x="183.03" y="258.9" width="2.44" height="7.21" fill="#b2b7d6"/>
<rect x="184.67" y="258.9" width="2.44" height="7.21" fill="#cfd2e6"/>
<rect x="186.32" y="258.9" width="2.44" height="7.21" fill="#8087bb"/>
<rect x="187.96" y="258.9" width="2.44" height="7.21" fill="#cdd0e4"/>
<rect x="189.6" y="258.9" width="2.44" height="7.21" fill="#f49497"/>
<rect x="191.25" y="258.9" width="2.44" height="7.21" fill="#f9c4c5"/>
<rect x="192.89" y="258.9" width="2.44" height="7.21" fill="#f7afb1"/>
<rect x="194.54" y="258.9" width="2.44" height="7.21" fill="#e81e24"/>
<rect x="196.18" y="258.9" width="2.44" height="7.21" fill="#f49598"/>
<rect x="197.82" y="258.9" width="2.44" height="7.21" fill="#d0d3e6"/>
<rect x="199.47" y="258.9" width="2.44" height="7.21" fill="#fffbfb"/>
<rect x="201.11" y="258.9" width="2.44" height="7.21" fill="#c6c9e1"/>
<rect x="202.76" y="258.9" width="2.44" height="7.21" fill="#bec1dc"/>
<rect x="204.4" y="258.9" width="2.44" height="7.21" fill="#f8bfc0"/>
<rect x="206.04" y="258.9" width="2.44" height="7.21" fill="#e9242a"/>
<rect x="207.69" y="258.9" width="2.44" height="7.21" fill="#f38589"/>
<rect x="209.33" y="258.9" width="2.44" height="7.21" fill="#f6a8aa"/>
<rect x="210.98" y="258.9" width="2.44" height="7.21" fill="#ed4d52"/>
<rect x="212.62" y="258.9" width="2.44" height="7.21" fill="#e81e24"/>
<rect x="214.26" y="258.9" width="2.44" height="7.21" fill="#f8babb"/>
<rect x="215.91" y="258.9" width="2.44" height="7.21" fill="#f9c7c8"/>
<rect x="217.55" y="258.9" width="2.44" height="7.21" fill="#ea2f34"/>
<rect x="219.2" y="258.9" width="2.44" height="7.21" fill="#b5b9d7"/>
<rect x="220.84" y="258.9" width="2.44" height="7.21" fill="#2c378e"/>
<rect x="222.48" y="258.9" width="2.44" height="7.21" fill="#acb1d3"/>
<rect x="224.13" y="258.9" width="2.44" height="7.21" fill="#fdecec"/>
<rect x="225.77" y="258.9" width="4.09" height="7.21" fill="#28348c"/>
<rect x="229.06" y="258.9" width="2.44" height="7.21" fill="#3e4998"/>
<rect x="230.7" y="258.9" width="2.44" height="7.21" fill="#384394"/>
<rect x="232.35" y="258.9" width="2.44" height="7.21" fill="#394495"/>
<rect x="233.99" y="258.9" width="2.44" height="7.21" fill="#6c74b0"/>
<rect x="235.64" y="258.9" width="2.44" height="7.21" fill="#7078b3"/>
<rect x="237.28" y="258.9" width="2.44" height="7.21" fill="#6069aa"/>
<rect x="238.92" y="258.9" width="2.44" height="7.21" fill="#5861a6"/>
<rect x="240.57" y="258.9" width="2.44" height="7.21" fill="#c9cce2"/>
<rect x="242.21" y="258.9" width="2.44" height="7.21" fill="#e8eaf3"/>
<rect x="243.86" y="258.9" width="2.44" height="7.21" fill="#6a73af"/>
<rect x="245.5" y="258.9" width="2.44" height="7.21" fill="#46509c"/>
<rect x="247.14" y="258.9" width="2.44" height="7.21" fill="#8289bc"/>
<rect x="248.79" y="258.9" width="2.44" height="7.21" fill="#6a72af"/>
<rect x="250.43" y="258.9" width="2.44" height="7.21" fill="#28348c"/>
<rect x="252.08" y="258.9" width="2.44" height="7.21" fill="#364193"/>
<rect x="253.72" y="258.9" width="2.44" height="7.21" fill="#8b92c1"/>
<rect x="255.36" y="258.9" width="2.44" height="7.21" fill="#5b64a7"/>
<rect x="257.01" y="258.9" width="2.44" height="7.21" fill="#404b99"/>
<rect x="258.65" y="258.9" width="2.44" height="7.21" fill="#5761a5"/>
<rect x="260.3" y="258.9" width="2.44" height="7.21" fill="#545ea4"/>
<rect x="261.94" y="258.9" width="2.44" height="7.21" fill="#2a368d"/>
<rect x="263.58" y="258.9" width="2.44" height="7.21" fill="#28348c"/>
<rect x="265.23" y="258.9" width="2.44" height="7.21" fill="#b1b5d5"/>
<rect x="266.87" y="258.9" width="2.44" height="7.21" fill="#aeb3d4"/>
<rect x="268.52" y="258.9" width="2.44" height="7.21" fill="#aaafd2"/>
<rect x="270.16" y="258.9" width="2.44" height="7.21" fill="#afb4d4"/>
<rect x="271.8" y="258.9" width="2.44" height="7.21" fill="#afb3d4"/>
<rect x="273.45" y="258.9" width="2.44" height="7.21" fill="#aeb3d4"/>
<rect x="275.09" y="258.9" width="2.44" height="7.21" fill="#b4b8d7"/>
<rect x="276.74" y="258.9" width="2.44" height="7.21" fill="#b8bcd9"/>
<rect x="278.38" y="258.9" width="2.44" height="7.21" fill="#b4b8d7"/>
<rect x="280.02" y="258.9" width="4.09" height="7.21" fill="#b6bad8"/>
<rect x="283.31" y="258.9" width="2.44" height="7.21" fill="#aaafd2"/>
<rect x="284.96" y="258.9" width="2.44" height="7.21" fill="#aaafd1"/>
<rect x="286.6" y="258.9" width="2.44" height="7.21" fill="#acb1d3"/>
<rect x="288.24" y="258.9" width="2.44" height="7.21" fill="#a6abcf"/>
<rect x="289.89" y="258.9" width="2.44" height="7.21" fill="#abafd2"/>
<rect x="291.53" y="258.9" width="4.09" height="7.21" fill="#b3b7d6"/>
<rect x="294.82" y="258.9" width="2.44" height="7.21" fill="#adb2d3"/>
<rect x="296.46" y="258.9" width="2.44" height="7.21" fill="#a9add1"/>
<rect x="298.11" y="258.9" width="2.44" height="7.21" fill="#b4b8d7"/>
<rect x="299.75" y="258.9" width="2.44" height="7.21" fill="#b3b7d6"/>
<rect x="301.4" y="258.9" width="2.44" height="7.21" fill="#b1b5d5"/>
<rect x="303.04" y="258.9" width="2.44" height="7.21" fill="#adb2d3"/>
<rect x="304.68" y="258.9" width="2.44" height="7.21" fill="#a4a9ce"/>
<rect x="306.33" y="258.9" width="2.44" height="7.21" fill="#a3a8ce"/>
<rect x="307.97" y="258.9" width="2.44" height="7.21" fill="#626bab"/>
<rect x="309.62" y="258.9" width="2.44" height="7.21" fill="#a5aacf"/>
<rect x="311.26" y="258.9" width="2.44" height="7.21" fill="#777fb6"/>
<rect x="312.9" y="258.9" width="2.44" height="7.21" fill="#6e76b2"/>
<rect x="314.55" y="258.9" width="2.44" height="7.21" fill="#7b82b8"/>
<rect x="316.19" y="258.9" width="2.44" height="7.21" fill="#9298c5"/>
<rect x="317.84" y="258.9" width="2.44" height="7.21" fill="#969cc7"/>
<rect x="319.48" y="258.9" width="2.44" height="7.21" fill="#8087bb"/>
<rect x="321.12" y="258.9" width="2.44" height="7.21" fill="#444e9b"/>
<rect x="322.77" y="258.9" width="2.44" height="7.21" fill="#28348c"/>
<rect x="324.41" y="258.9" width="2.44" height="7.21" fill="#6971af"/>
<rect x="326.06" y="258.9" width="1.64" height="7.21" fill="#8b92c1"/>
<rect x="163.3" y="265.31" width="2.44" height="7.21" fill="#ec464a"/>
<rect x="164.94" y="265.31" width="2.44" height="7.21" fill="#fbd8d9"/>
<rect x="166.59" y="265.31" width="2.44" height="7.21" fill="#c4c7df"/>
<rect x="168.23" y="265.31" width="2.44" height="7.21" fill="#dcdeec"/>
<rect x="169.88" y="265.31" width="2.44" height="7.21" fill="#535ca3"/>
<rect x="171.52" y="265.31" width="2.44" height="7.21" fill="#49539d"/>
<rect x="173.16" y="265.31" width="2.44" height="7.21" fill="#7c83b9"/>
<rect x="174.81" y="265.31" width="2.44" height="7.21" fill="#f59a9d"/>
<rect x="176.45" y="265.31" width="2.44" height="7.21" fill="#e81e24"/>
<rect x="178.1" y="265.31" width="2.44" height="7.21" fill="#ea3338"/>
<rect x="179.74" y="265.31" width="2.44" height="7.21" fill="#ed5055"/>
<rect x="181.38" y="265.31" width="2.44" height="7.21" fill="#f49497"/>
<rect x="183.03" y="265.31" width="2.44" height="7.21" fill="#facacc"/>
<rect x="184.67" y="265.31" width="2.44" height="7.21" fill="#cbcde3"/>
<rect x="186.32" y="265.31" width="2.44" height="7.21" fill="#7e85ba"/>
<rect x="187.96" y="265.31" width="4.09" height="7.21" fill="#28348c"/>
<rect x="191.25" y="265.31" width="2.44" height="7.21" fill="#6f77b2"/>
<rect x="192.89" y="265.31" width="2.44" height="7.21" fill="#f59c9f"/>
<rect x="194.54" y="265.31" width="2.44" height="7.21" fill="#ee5d61"/>
<rect x="196.18" y="265.31" width="2.44" height="7.21" fill="#ea3035"/>
<rect x="197.82" y="265.31" width="2.44" height="7.21" fill="#ea3339"/>
<rect x="199.47" y="265.31" width="2.44" height="7.21" fill="#f6a3a5"/>
<rect x="201.11" y="265.31" width="2.44" height="7.21" fill="#ec464b"/>
<rect x="202.76" y="265.31" width="2.44" height="7.21" fill="#e81e24"/>
<rect x="204.4" y="265.31" width="2.44" height="7.21" fill="#f1797c"/>
<rect x="206.04" y="265.31" width="2.44" height="7.21" fill="#f1777a"/>
<rect x="207.69" y="265.31" width="2.44" height="7.21" fill="#d8daea"/>
<rect x="209.33" y="265.31" width="2.44" height="7.21" fill="#5e67a9"/>
<rect x="210.98" y="265.31" width="2.44" height="7.21" fill="#b0b5d5"/>
<rect x="212.62" y="265.31" width="2.44" height="7.21" fill="#abb0d2"/>
<rect x="214.26" y="265.31" width="2.44" height="7.21" fill="#dbddec"/>
<rect x="215.91" y="265.31" width="2.44" height="7.21" fill="#daddeb"/>
<rect x="217.55" y="265.31" width="2.44" height="7.21" fill="#c0c3dd"/>
<rect x="219.2" y="265.31" width="2.44" height="7.21" fill="#757db5"/>
<rect x="220.84" y="265.31" width="2.44" height="7.21" fill="#dbddec"/>
<rect x="222.48" y="265.31" width="2.44" height="7.21" fill="#e7e9f2"/>
<rect x="224.13" y="265.31" width="2.44" height="7.21" fill="#45509c"/>
<rect x="225.77" y="265.31" width="2.44" height="7.21" fill="#28348c"/>
<rect x="227.42" y="265.31" width="2.44" height="7.21" fill="#4d57a0"/>
<rect x="229.06" y="265.31" width="2.44" height="7.21" fill="#888ebf"/>
<rect x="230.7" y="265.31" width="2.44" height="7.21" fill="#858cbe"/>
<rect x="232.35" y="265.31" width="2.44" height="7.21" fill="#4b559f"/>
<rect x="233.99" y="265.31" width="4.09" height="7.21" fill="#28348c"/>
<rect x="237.28" y="265.31" width="2.44" height="7.21" fill="#989ec8"/>
<rect x="238.92" y="265.31" width="2.44" height="7.21" fill="#5d66a8"/>
<rect x="240.57" y="265.31" width="7.38" height="7.21" fill="#28348c"/>
<rect x="247.14" y="265.31" width="2.44" height="7.21" fill="#848bbd"/>
<rect x="248.79" y="265.31" width="2.44" height="7.21" fill="#757db5"/>
<rect x="250.43" y="265.31" width="2.44" height="7.21" fill="#9ea3cb"/>
<rect x="252.08" y="265.31" width="2.44" height="7.21" fill="#555fa4"/>
<rect x="253.72" y="265.31" width="2.44" height="7.21" fill="#28348c"/>
<rect x="255.36" y="265.31" width="2.44" height="7.21" fill="#3a4596"/>
<rect x="257.01" y="265.31" width="2.44" height="7.21" fill="#dddfed"/>
<rect x="258.65" y="265.31" width="2.44" height="7.21" fill="#3c4797"/>
<rect x="260.3" y="265.31" width="2.44" height="7.21" fill="#28348c"/>
<rect x="261.94" y="265.31" width="2.44" height="7.21" fill="#9096c4"/>
<rect x="263.58" y="265.31" width="2.44" height="7.21" fill="#727ab4"/>
<rect x="265.23" y="265.31" width="2.44" height="7.21" fill="#b5b9d7"/>
<rect x="266.87" y="265.31" width="2.44" height="7.21" fill="#b7bbd8"/>
<rect x="268.52" y="265.31" width="2.44" height="7.21" fill="#aeb3d4"/>
<rect x="270.16" y="265.31" width="2.44" height="7.21" fill="#b1b5d5"/>
<rect x="271.8" y="265.31" width="2.44" height="7.21" fill="#adb2d3"/>
<rect x="273.45" y="265.31" width="2.44" height="7.21" fill="#abafd2"/>
<rect x="275.09" y="265.31" width="2.44" height="7.21" fill="#afb4d4"/>
<rect x="276.74" y="265.31" width="2.44" height="7.21" fill="#b7bbd8"/>
<rect x="278.38" y="265.31" width="2.44" height="7.21" fill="#b1b6d6"/>
<rect x="280.02" y="265.31" width="2.44" height="7.21" fill="#aaafd1"/>
<rect x="281.67" y="265.31" width="2.44" height="7.21" fill="#aeb2d4"/>
<rect x="283.31" y="265.31" width="2.44" height="7.21" fill="#b9bdda"/>
<rect x="284.96" y="265.31" width="2.44" height="7.21" fill="#b8bcd9"/>
<rect x="286.6" y="265.31" width="2.44" height="7.21" fill="#b3b7d6"/>
<rect x="288.24" y="265.31" width="2.44" height="7.21" fill="#bbbfdb"/>
<rect x="289.89" y="265.31" width="2.44" height="7.21" fill="#b3b7d6"/>
<rect x="291.53" y="265.31" width="2.44" height="7.21" fill="#adb2d3"/>
<rect x="293.18" y="265.31" width="2.44" height="7.21" fill="#b2b6d6"/>
<rect x="294.82" y="265.31" width="2.44" height="7.21" fill="#b9bdda"/>
<rect x="296.46" y="265.31" width="2.44" height="7.21" fill="#bdc0dc"/>
<rect x="298.11" y="265.31" width="2.44" height="7.21" fill="#b9bdda"/>
<rect x="299.75" y="265.31" width="2.44" height="7.21" fill="#b2b6d6"/>
<rect x="301.4" y="265.31" width="2.44" height="7.21" fill="#aeb3d4"/>
<rect x="303.04" y="265.31" width="2.44" height="7.21" fill="#acb1d3"/>
<rect x="304.68" y="265.31" width="2.44" height="7.21" fill="#b0b4d5"/>
<rect x="306.33" y="265.31" width="2.44" height="7.21" fill="#b1b5d5"/>
<rect x="307.97" y="265.31" width="2.44" height="7.21" fill="#7e85ba"/>
<rect x="309.62" y="265.31" width="2.44" height="7.21" fill="#626bab"/>
<rect x="311.26" y="265.31" width="2.44" height="7.21" fill="#656ead"/>
<rect x="312.9" y="265.31" width="2.44" height="7.21" fill="#5f68aa"/>
<rect x="314.55" y="265.31" width="2.44" height="7.21" fill="#535da3"/>
<rect x="316.19" y="265.31" width="2.44" height="7.21" fill="#535ca3"/>
<rect x="317.84" y="265.31" width="2.44" height="7.21" fill="#565fa4"/>
<rect x="319.48" y="265.31" width="2.44" height="7.21" fill="#636bab"/>
<rect x="321.12" y="265.31" width="2.44" height="7.21" fill="#8f95c3"/>
<rect x="322.77" y="265.31" width="2.44" height="7.21" fill="#848bbd"/>
<rect x="324.41" y="265.31" width="2.44" height="7.21" fill="#6971af"/>
<rect x="326.06" y="265.31" width="1.64" height="7.21" fill="#9096c4"/>
<rect x="163.3" y="271.72" width="2.44" height="7.21" fill="#fde7e8"/>
<rect x="164.94" y="271.72" width="2.44" height="7.21" fill="#f59c9e"/>
<rect x="166.59" y="271.72" width="2.44" height="7.21" fill="#b4b8d7"/>
<rect x="168.23" y="271.72" width="2.44" height="7.21" fill="#7078b2"/>
<rect x="169.88" y="271.72" width="2.44" height="7.21" fill="#5e67a9"/>
<rect x="171.52" y="271.72" width="2.44" height="7.21" fill="#a3a8ce"/>
<rect x="173.16" y="271.72" width="2.44" height="7.21" fill="#e0e1ee"/>
<rect x="174.81" y="271.72" width="2.44" height="7.21" fill="#b7bbd8"/>
<rect x="176.45" y="271.72" width="2.44" height="7.21" fill="#9ca2ca"/>
<rect x="178.1" y="271.72" width="2.44" height="7.21" fill="#d4d7e8"/>
<rect x="179.74" y="271.72" width="2.44" height="7.21" fill="#c3c6df"/>
<rect x="181.38" y="271.72" width="2.44" height="7.21" fill="#9aa0c9"/>
<rect x="183.03" y="271.72" width="2.44" height="7.21" fill="#5962a6"/>
<rect x="184.67" y="271.72" width="2.44" height="7.21" fill="#757db5"/>
<rect x="186.32" y="271.72" width="2.44" height="7.21" fill="#374294"/>
<rect x="187.96" y="271.72" width="2.44" height="7.21" fill="#3e4998"/>
<rect x="189.6" y="271.72" width="2.44" height="7.21" fill="#dee0ed"/>
<rect x="191.25" y="271.72" width="2.44" height="7.21" fill="#ec4146"/>
<rect x="192.89" y="271.72" width="2.44" height="7.21" fill="#f3878a"/>
<rect x="194.54" y="271.72" width="2.44" height="7.21" fill="#b9bdda"/>
<rect x="196.18" y="271.72" width="2.44" height="7.21" fill="#acb1d3"/>
<rect x="197.82" y="271.72" width="2.44" height="7.21" fill="#f6a6a9"/>
<rect x="199.47" y="271.72" width="2.44" height="7.21" fill="#ef6165"/>
<rect x="201.11" y="271.72" width="2.44" height="7.21" fill="#f48f92"/>
<rect x="202.76" y="271.72" width="2.44" height="7.21" fill="#babeda"/>
<rect x="204.4" y="271.72" width="2.44" height="7.21" fill="#9fa4cc"/>
<rect x="206.04" y="271.72" width="2.44" height="7.21" fill="#7c83b9"/>
<rect x="207.69" y="271.72" width="2.44" height="7.21" fill="#616aaa"/>
<rect x="209.33" y="271.72" width="2.44" height="7.21" fill="#454f9b"/>
<rect x="210.98" y="271.72" width="2.44" height="7.21" fill="#343f92"/>
<rect x="212.62" y="271.72" width="4.09" height="7.21" fill="#28348c"/>
<rect x="215.91" y="271.72" width="2.44" height="7.21" fill="#838abd"/>
<rect x="217.55" y="271.72" width="2.44" height="7.21" fill="#6770ae"/>
<rect x="219.2" y="271.72" width="2.44" height="7.21" fill="#8a91c1"/>
<rect x="220.84" y="271.72" width="2.44" height="7.21" fill="#374394"/>
<rect x="222.48" y="271.72" width="2.44" height="7.21" fill="#5b64a7"/>
<rect x="224.13" y="271.72" width="2.44" height="7.21" fill="#848bbd"/>
<rect x="225.77" y="271.72" width="2.44" height="7.21" fill="#3d4897"/>
<rect x="227.42" y="271.72" width="2.44" height="7.21" fill="#7880b7"/>
<rect x="229.06" y="271.72" width="2.44" height="7.21" fill="#f6a6a9"/>
<rect x="230.7" y="271.72" width="2.44" height="7.21" fill="#8289bc"/>
<rect x="232.35" y="271.72" width="2.44" height="7.21" fill="#3e4998"/>
<rect x="233.99" y="271.72" width="2.44" height="7.21" fill="#535ca3"/>
<rect x="235.64" y="271.72" width="2.44" height="7.21" fill="#7d84b9"/>
<rect x="237.28" y="271.72" width="2.44" height="7.21" fill="#a0a6cc"/>
<rect x="238.92" y="271.72" width="2.44" height="7.21" fill="#fefafa"/>
<rect x="240.57" y="271.72" width="2.44" height="7.21" fill="#dddeed"/>
<rect x="242.21" y="271.72" width="2.44" height="7.21" fill="#777eb6"/>
<rect x="243.86" y="271.72" width="2.44" height="7.21" fill="#48539d"/>
<rect x="245.5" y="271.72" width="4.09" height="7.21" fill="#28348c"/>
<rect x="248.79" y="271.72" width="2.44" height="7.21" fill="#46519c"/>
<rect x="250.43" y="271.72" width="2.44" height="7.21" fill="#b1b6d6"/>
<rect x="252.08" y="271.72" width="2.44" height="7.21" fill="#bbbeda"/>
<rect x="253.72" y="271.72" width="2.44" height="7.21" fill="#f2f3f8"/>
<rect x="255.36" y="271.72" width="2.44" height="7.21" fill="#f1f2f8"/>
<rect x="257.01" y="271.72" width="2.44" height="7.21" fill="#cfd1e5"/>
<rect x="258.65" y="271.72" width="2.44" height="7.21" fill="#f7b2b4"/>
<rect x="260.3" y="271.72" width="2.44" height="7.21" fill="#878dbf"/>
<rect x="261.94" y="271.72" width="2.44" height="7.21" fill="#4a549e"/>
<rect x="263.58" y="271.72" width="2.44" height="7.21" fill="#777eb6"/>
<rect x="265.23" y="271.72" width="2.44" height="7.21" fill="#ebecf4"/>
<rect x="266.87" y="271.72" width="2.44" height="7.21" fill="#e5e6f1"/>
<rect x="268.52" y="271.72" width="2.44" height="7.21" fill="#e1e3ef"/>
<rect x="270.16" y="271.72" width="2.44" height="7.21" fill="#e8eaf3"/>
<rect x="271.8" y="271.72" width="2.44" height="7.21" fill="#edeef5"/>
<rect x="273.45" y="271.72" width="2.44" height="7.21" fill="#e6e7f2"/>
<rect x="275.09" y="271.72" width="2.44" height="7.21" fill="#e5e7f1"/>
<rect x="276.74" y="271.72" width="2.44" height="7.21" fill="#edeef6"/>
<rect x="278.38" y="271.72" width="2.44" height="7.21" fill="#f0f1f7"/>
<rect x="280.02" y="271.72" width="2.44" height="7.21" fill="#ebecf4"/>
<rect x="281.67" y="271.72" width="2.44" height="7.21" fill="#e3e4f0"/>
<rect x="283.31" y="271.72" width="2.44" height="7.21" fill="#e6e7f2"/>
<rect x="284.96" y="271.72" width="2.44" height="7.21" fill="#e4e6f1"/>
<rect x="286.6" y="271.72" width="2.44" height="7.21" fill="#dedfed"/>
<rect x="288.24" y="271.72" width="2.44" height="7.21" fill="#e9eaf3"/>
<rect x="289.89" y="271.72" width="2.44" height="7.21" fill="#e7e9f2"/>
<rect x="291.53" y="271.72" width="2.44" height="7.21" fill="#e8e9f3"/>
<rect x="293.18" y="271.72" width="2.44" height="7.21" fill="#f4f4f9"/>
<rect x="294.82" y="271.72" width="2.44" height="7.21" fill="#e9eaf3"/>
<rect x="296.46" y="271.72" width="2.44" height="7.21" fill="#e1e3ef"/>
<rect x="298.11" y="271.72" width="2.44" height="7.21" fill="#e4e6f1"/>
<rect x="299.75" y="271.72" width="2.44" height="7.21" fill="#eaebf4"/>
<rect x="301.4" y="271.72" width="2.44" height="7.21" fill="#ebecf4"/>
<rect x="303.04" y="271.72" width="2.44" height="7.21" fill="#e4e6f1"/>
<rect x="304.68" y="271.72" width="2.44" height="7.21" fill="#dfe0ee"/>
<rect x="306.33" y="271.72" width="2.44" height="7.21" fill="#dee0ed"/>
<rect x="307.97" y="271.72" width="2.44" height="7.21" fill="#868dbe"/>
<rect x="309.62" y="271.72" width="2.44" height="7.21" fill="#888fbf"/>
<rect x="311.26" y="271.72" width="2.44" height="7.21" fill="#a1a6cd"/>
<rect x="312.9" y="271.72" width="2.44" height="7.21" fill="#a3a8ce"/>
<rect x="314.55" y="271.72" width="2.44" height="7.21" fill="#a6abcf"/>
<rect x="316.19" y="271.72" width="2.44" height="7.21" fill="#8f95c3"/>
<rect x="317.84" y="271.72" width="2.44" height="7.21" fill="#8c92c1"/>
<rect x="319.48" y="271.72" width="2.44" height="7.21" fill="#9fa5cc"/>
<rect x="321.12" y="271.72" width="2.44" height="7.21" fill="#b2b6d6"/>
<rect x="322.77" y="271.72" width="2.44" height="7.21" fill="#ced1e5"/>
<rect x="324.41" y="271.72" width="2.44" height="7.21" fill="#a4a9ce"/>
<rect x="326.06" y="271.72" width="1.64" height="7.21" fill="#b2b6d6"/>
<rect x="163.3" y="278.13" width="2.44" height="7.21" fill="#f49396"/>
<rect x="164.94" y="278.13" width="2.44" height="7.21" fill="#fbd6d7"/>
<rect x="166.59" y="278.13" width="2.44" height="7.21" fill="#ec484d"/>
<rect x="168.23" y="278.13" width="2.44" height="7.21" fill="#f28083"/>
<rect x="169.88" y="278.13" width="2.44" height="7.21" fill="#b4b8d7"/>
<rect x="171.52" y="278.13" width="2.44" height="7.21" fill="#ed5358"/>
<rect x="173.16" y="278.13" width="2.44" height="7.21" fill="#e81e24"/>
<rect x="174.81" y="278.13" width="2.44" height="7.21" fill="#ef5f63"/>
<rect x="176.45" y="278.13" width="2.44" height="7.21" fill="#e81e24"/>
<rect x="178.1" y="278.13" width="2.44" height="7.21" fill="#ec494e"/>
<rect x="179.74" y="278.13" width="2.44" height="7.21" fill="#f9c1c2"/>
<rect x="181.38" y="278.13" width="2.44" height="7.21" fill="#ef6065"/>
<rect x="183.03" y="278.13" width="2.44" height="7.21" fill="#f5a0a3"/>
<rect x="184.67" y="278.13" width="2.44" height="7.21" fill="#9399c5"/>
<rect x="186.32" y="278.13" width="2.44" height="7.21" fill="#757db5"/>
<rect x="187.96" y="278.13" width="2.44" height="7.21" fill="#f6aaad"/>
<rect x="189.6" y="278.13" width="2.44" height="7.21" fill="#f38e91"/>
<rect x="191.25" y="278.13" width="2.44" height="7.21" fill="#eb393e"/>
<rect x="192.89" y="278.13" width="2.44" height="7.21" fill="#ec4146"/>
<rect x="194.54" y="278.13" width="2.44" height="7.21" fill="#f59b9e"/>
<rect x="196.18" y="278.13" width="2.44" height="7.21" fill="#f07074"/>
<rect x="197.82" y="278.13" width="5.73" height="7.21" fill="#e81e24"/>
<rect x="202.76" y="278.13" width="2.44" height="7.21" fill="#f38e91"/>
<rect x="204.4" y="278.13" width="2.44" height="7.21" fill="#fdeced"/>
<rect x="206.04" y="278.13" width="2.44" height="7.21" fill="#f17478"/>
<rect x="207.69" y="278.13" width="4.09" height="7.21" fill="#e81e24"/>
<rect x="210.98" y="278.13" width="2.44" height="7.21" fill="#f5999b"/>
<rect x="212.62" y="278.13" width="2.44" height="7.21" fill="#fef4f4"/>
<rect x="214.26" y="278.13" width="2.44" height="7.21" fill="#f4989a"/>
<rect x="215.91" y="278.13" width="2.44" height="7.21" fill="#f8b6b8"/>
<rect x="217.55" y="278.13" width="2.44" height="7.21" fill="#f0696d"/>
<rect x="219.2" y="278.13" width="2.44" height="7.21" fill="#e81e24"/>
<rect x="220.84" y="278.13" width="2.44" height="7.21" fill="#fbd7d8"/>
<rect x="222.48" y="278.13" width="2.44" height="7.21" fill="#b1b5d5"/>
<rect x="224.13" y="278.13" width="2.44" height="7.21" fill="#838abd"/>
<rect x="225.77" y="278.13" width="2.44" height="7.21" fill="#ced1e5"/>
<rect x="227.42" y="278.13" width="2.44" height="7.21" fill="#f59c9f"/>
<rect x="229.06" y="278.13" width="2.44" height="7.21" fill="#bcbfdb"/>
<rect x="230.7" y="278.13" width="2.44" height="7.21" fill="#5e67a9"/>
<rect x="232.35" y="278.13" width="2.44" height="7.21" fill="#fdeff0"/>
<rect x="233.99" y="278.13" width="2.44" height="7.21" fill="#f6a2a5"/>
<rect x="235.64" y="278.13" width="2.44" height="7.21" fill="#eb383d"/>
<rect x="237.28" y="278.13" width="2.44" height="7.21" fill="#c9cce2"/>
<rect x="238.92" y="278.13" width="2.44" height="7.21" fill="#7a81b8"/>
<rect x="240.57" y="278.13" width="2.44" height="7.21" fill="#848bbd"/>
<rect x="242.21" y="278.13" width="2.44" height="7.21" fill="#999fc9"/>
<rect x="243.86" y="278.13" width="2.44" height="7.21" fill="#525ca3"/>
<rect x="245.5" y="278.13" width="4.09" height="7.21" fill="#28348c"/>
<rect x="248.79" y="278.13" width="2.44" height="7.21" fill="#535da3"/>
<rect x="250.43" y="278.13" width="2.44" height="7.21" fill="#5f68a9"/>
<rect x="252.08" y="278.13" width="2.44" height="7.21" fill="#9096c3"/>
<rect x="253.72" y="278.13" width="2.44" height="7.21" fill="#f38d90"/>
<rect x="255.36" y="278.13" width="2.44" height="7.21" fill="#f6a8aa"/>
<rect x="257.01" y="278.13" width="2.44" height="7.21" fill="#fdeded"/>
<rect x="258.65" y="278.13" width="2.44" height="7.21" fill="#9096c4"/>
<rect x="260.3" y="278.13" width="2.44" height="7.21" fill="#989dc8"/>
<rect x="261.94" y="278.13" width="2.44" height="7.21" fill="#868dbe"/>
<rect x="263.58" y="278.13" width="2.44" height="7.21" fill="#9197c4"/>
<rect x="265.23" y="278.13" width="4.09" height="7.21" fill="#424c9a"/>
<rect x="268.52" y="278.13" width="2.44" height="7.21" fill="#414b99"/>
<rect x="270.16" y="278.13" width="2.44" height="7.21" fill="#3e4998"/>
<rect x="271.8" y="278.13" width="2.44" height="7.21" fill="#3a4596"/>
<rect x="273.45" y="278.13" width="2.44" height="7.21" fill="#3c4797"/>
<rect x="275.09" y="278.13" width="2.44" height="7.21" fill="#3f4a98"/>
<rect x="276.74" y="278.13" width="2.44" height="7.21" fill="#3d4897"/>
<rect x="278.38" y="278.13" width="2.44" height="7.21" fill="#3d4797"/>
<rect x="280.02" y="278.13" width="2.44" height="7.21" fill="#3e4998"/>
<rect x="281.67" y="278.13" width="2.44" height="7.21" fill="#3c4797"/>
<rect x="283.31" y="278.13" width="2.44" height="7.21" fill="#3d4897"/>
<rect x="284.96" y="278.13" width="2.44" height="7.21" fill="#414b99"/>
<rect x="286.6" y="278.13" width="2.44" height="7.21" fill="#404b99"/>
<rect x="288.24" y="278.13" width="2.44" height="7.21" fill="#444e9b"/>
<rect x="289.89" y="278.13" width="2.44" height="7.21" fill="#434d9a"/>
<rect x="291.53" y="278.13" width="2.44" height="7.21" fill="#434e9b"/>
<rect x="293.18" y="278.13" width="2.44" height="7.21" fill="#414c99"/>
<rect x="294.82" y="278.13" width="2.44" height="7.21" fill="#394595"/>
<rect x="296.46" y="278.13" width="2.44" height="7.21" fill="#3b4696"/>
<rect x="298.11" y="278.13" width="2.44" height="7.21" fill="#3b4596"/>
<rect x="299.75" y="278.13" width="2.44" height="7.21" fill="#3c4797"/>
<rect x="301.4" y="278.13" width="2.44" height="7.21" fill="#3f4a99"/>
<rect x="303.04" y="278.13" width="2.44" height="7.21" fill="#434d9a"/>
<rect x="304.68" y="278.13" width="2.44" height="7.21" fill="#424c9a"/>
<rect x="306.33" y="278.13" width="2.44" height="7.21" fill="#434e9b"/>
<rect x="307.97" y="278.13" width="2.44" height="7.21" fill="#414b99"/>
<rect x="309.62" y="278.13" width="2.44" height="7.21" fill="#3c4696"/>
<rect x="311.26" y="278.13" width="2.44" height="7.21" fill="#4b559f"/>
<rect x="312.9" y="278.13" width="2.44" height="7.21" fill="#5a63a7"/>
<rect x="314.55" y="278.13" width="2.44" height="7.21" fill="#424d9a"/>
<rect x="316.19" y="278.13" width="2.44" height="7.21" fill="#2e3a8f"/>
<rect x="317.84" y="278.13" width="4.09" height="7.21" fill="#28348c"/>
<rect x="321.12" y="278.13" width="2.44" height="7.21" fill="#5c65a8"/>
<rect x="322.77" y="278.13" width="2.44" height="7.21" fill="#636cac"/>
<rect x="324.41" y="278.13" width="2.44" height="7.21" fill="#555ea4"/>
<rect x="326.06" y="278.13" width="1.64" height="7.21" fill="#4e58a0"/>
<rect x="163.3" y="284.54" width="2.44" height="7.21" fill="#f8b7b9"/>
<rect x="164.94" y="284.54" width="2.44" height="7.21" fill="#f17a7e"/>
<rect x="166.59" y="284.54" width="2.44" height="7.21" fill="#eb3a3f"/>
<rect x="168.23" y="284.54" width="2.44" height="7.21" fill="#f6a5a8"/>
<rect x="169.88" y="284.54" width="2.44" height="7.21" fill="#f38b8e"/>
<rect x="171.52" y="284.54" width="5.73" height="7.21" fill="#e81e24"/>
<rect x="176.45" y="284.54" width="2.44" height="7.21" fill="#e9242a"/>
<rect x="178.1" y="284.54" width="4.09" height="7.21" fill="#e81e24"/>
<rect x="181.38" y="284.54" width="2.44" height="7.21" fill="#ee575c"/>
<rect x="183.03" y="284.54" width="2.44" height="7.21" fill="#ee5459"/>
<rect x="184.67" y="284.54" width="4.09" height="7.21" fill="#e81e24"/>
<rect x="187.96" y="284.54" width="2.44" height="7.21" fill="#ec4247"/>
<rect x="189.6" y="284.54" width="2.44" height="7.21" fill="#ee5d62"/>
<rect x="191.25" y="284.54" width="2.44" height="7.21" fill="#f49699"/>
<rect x="192.89" y="284.54" width="2.44" height="7.21" fill="#f9c1c3"/>
<rect x="194.54" y="284.54" width="2.44" height="7.21" fill="#f6acae"/>
<rect x="196.18" y="284.54" width="2.44" height="7.21" fill="#ed4e53"/>
<rect x="197.82" y="284.54" width="2.44" height="7.21" fill="#e9252a"/>
<rect x="199.47" y="284.54" width="2.44" height="7.21" fill="#f49295"/>
<rect x="201.11" y="284.54" width="2.44" height="7.21" fill="#f8b9bb"/>
<rect x="202.76" y="284.54" width="2.44" height="7.21" fill="#f3888b"/>
<rect x="204.4" y="284.54" width="2.44" height="7.21" fill="#eb373c"/>
<rect x="206.04" y="284.54" width="2.44" height="7.21" fill="#eb3b40"/>
<rect x="207.69" y="284.54" width="2.44" height="7.21" fill="#f7b1b3"/>
<rect x="209.33" y="284.54" width="2.44" height="7.21" fill="#f27f82"/>
<rect x="210.98" y="284.54" width="2.44" height="7.21" fill="#f49699"/>
<rect x="212.62" y="284.54" width="2.44" height="7.21" fill="#ee575b"/>
<rect x="214.26" y="284.54" width="2.44" height="7.21" fill="#f9c7c8"/>
<rect x="215.91" y="284.54" width="2.44" height="7.21" fill="#dbddec"/>
<rect x="217.55" y="284.54" width="2.44" height="7.21" fill="#f9c8c9"/>
<rect x="219.2" y="284.54" width="2.44" height="7.21" fill="#f49598"/>
<rect x="220.84" y="284.54" width="2.44" height="7.21" fill="#5c65a8"/>
<rect x="222.48" y="284.54" width="2.44" height="7.21" fill="#989ec8"/>
<rect x="224.13" y="284.54" width="2.44" height="7.21" fill="#b1b5d5"/>
<rect x="225.77" y="284.54" width="2.44" height="7.21" fill="#afb3d4"/>
<rect x="227.42" y="284.54" width="2.44" height="7.21" fill="#cfd1e5"/>
<rect x="229.06" y="284.54" width="2.44" height="7.21" fill="#dcdeec"/>
<rect x="230.7" y="284.54" width="2.44" height="7.21" fill="#7e85ba"/>
<rect x="232.35" y="284.54" width="2.44" height="7.21" fill="#8b91c1"/>
<rect x="233.99" y="284.54" width="2.44" height="7.21" fill="#6b73b0"/>
<rect x="235.64" y="284.54" width="2.44" height="7.21" fill="#28348c"/>
<rect x="237.28" y="284.54" width="2.44" height="7.21" fill="#767db6"/>
<rect x="238.92" y="284.54" width="2.44" height="7.21" fill="#6069aa"/>
<rect x="240.57" y="284.54" width="2.44" height="7.21" fill="#515aa2"/>
<rect x="242.21" y="284.54" width="2.44" height="7.21" fill="#6f77b2"/>
<rect x="243.86" y="284.54" width="2.44" height="7.21" fill="#a2a7cd"/>
<rect x="245.5" y="284.54" width="2.44" height="7.21" fill="#c9cce2"/>
<rect x="247.14" y="284.54" width="2.44" height="7.21" fill="#babeda"/>
<rect x="248.79" y="284.54" width="2.44" height="7.21" fill="#878ebf"/>
<rect x="250.43" y="284.54" width="2.44" height="7.21" fill="#d0d3e6"/>
<rect x="252.08" y="284.54" width="2.44" height="7.21" fill="#c8cbe2"/>
<rect x="253.72" y="284.54" width="2.44" height="7.21" fill="#8a91c1"/>
<rect x="255.36" y="284.54" width="2.44" height="7.21" fill="#a6abcf"/>
<rect x="257.01" y="284.54" width="2.44" height="7.21" fill="#f8f8fb"/>
<rect x="258.65" y="284.54" width="2.44" height="7.21" fill="#f7f7fb"/>
<rect x="260.3" y="284.54" width="2.44" height="7.21" fill="#eeeff6"/>
<rect x="261.94" y="284.54" width="2.44" height="7.21" fill="#dbddec"/>
<rect x="263.58" y="284.54" width="2.44" height="7.21" fill="#f59b9d"/>
<rect x="265.23" y="284.54" width="2.44" height="7.21" fill="#47529d"/>
<rect x="266.87" y="284.54" width="2.44" height="7.21" fill="#414c99"/>
<rect x="268.52" y="284.54" width="2.44" height="7.21" fill="#3c4797"/>
<rect x="270.16" y="284.54" width="2.44" height="7.21" fill="#424d9a"/>
<rect x="271.8" y="284.54" width="2.44" height="7.21" fill="#3e4898"/>
<rect x="273.45" y="284.54" width="2.44" height="7.21" fill="#384395"/>
<rect x="275.09" y="284.54" width="2.44" height="7.21" fill="#374294"/>
<rect x="276.74" y="284.54" width="2.44" height="7.21" fill="#3f4a98"/>
<rect x="278.38" y="284.54" width="2.44" height="7.21" fill="#444e9b"/>
<rect x="280.02" y="284.54" width="2.44" height="7.21" fill="#434d9a"/>
<rect x="281.67" y="284.54" width="2.44" height="7.21" fill="#404b99"/>
<rect x="283.31" y="284.54" width="2.44" height="7.21" fill="#434d9a"/>
<rect x="284.96" y="284.54" width="2.44" height="7.21" fill="#404a99"/>
<rect x="286.6" y="284.54" width="2.44" height="7.21" fill="#3d4897"/>
<rect x="288.24" y="284.54" width="2.44" height="7.21" fill="#3f4a98"/>
<rect x="289.89" y="284.54" width="4.09" height="7.21" fill="#404a99"/>
<rect x="293.18" y="284.54" width="2.44" height="7.21" fill="#3e4998"/>
<rect x="294.82" y="284.54" width="2.44" height="7.21" fill="#3a4596"/>
<rect x="296.46" y="284.54" width="2.44" height="7.21" fill="#414c99"/>
<rect x="298.11" y="284.54" width="4.09" height="7.21" fill="#404a99"/>
<rect x="301.4" y="284.54" width="2.44" height="7.21" fill="#3d4897"/>
<rect x="303.04" y="284.54" width="2.44" height="7.21" fill="#3f4998"/>
<rect x="304.68" y="284.54" width="2.44" height="7.21" fill="#3d4897"/>
<rect x="306.33" y="284.54" width="2.44" height="7.21" fill="#3a4596"/>
<rect x="307.97" y="284.54" width="2.44" height="7.21" fill="#5c65a8"/>
<rect x="309.62" y="284.54" width="2.44" height="7.21" fill="#656ead"/>
<rect x="311.26" y="284.54" width="2.44" height="7.21" fill="#323d91"/>
<rect x="312.9" y="284.54" width="2.44" height="7.21" fill="#28348c"/>
<rect x="314.55" y="284.54" width="2.44" height="7.21" fill="#313d91"/>
<rect x="316.19" y="284.54" width="2.44" height="7.21" fill="#404b99"/>
<rect x="317.84" y="284.54" width="2.44" height="7.21" fill="#565fa5"/>
<rect x="319.48" y="284.54" width="2.44" height="7.21" fill="#6972af"/>
<rect x="321.12" y="284.54" width="2.44" height="7.21" fill="#8e94c2"/>
<rect x="322.77" y="284.54" width="2.44" height="7.21" fill="#7980b7"/>
<rect x="324.41" y="284.54" width="2.44" height="7.21" fill="#5b64a7"/>
<rect x="326.06" y="284.54" width="1.64" height="7.21" fill="#5e67a9"/>
<rect x="163.3" y="290.96" width="2.44" height="7.21" fill="#28348c"/>
<rect x="164.94" y="290.96" width="2.44" height="7.21" fill="#7a81b8"/>
<rect x="166.59" y="290.96" width="2.44" height="7.21" fill="#d4d6e8"/>
<rect x="168.23" y="290.96" width="2.44" height="7.21" fill="#f5a2a4"/>
<rect x="169.88" y="290.96" width="2.44" height="7.21" fill="#ef6468"/>
<rect x="171.52" y="290.96" width="2.44" height="7.21" fill="#ed4d51"/>
<rect x="173.16" y="290.96" width="2.44" height="7.21" fill="#ec4146"/>
<rect x="174.81" y="290.96" width="2.44" height="7.21" fill="#f59ea1"/>
<rect x="176.45" y="290.96" width="2.44" height="7.21" fill="#f28084"/>
<rect x="178.1" y="290.96" width="2.44" height="7.21" fill="#f38689"/>
<rect x="179.74" y="290.96" width="2.44" height="7.21" fill="#f27c80"/>
<rect x="181.38" y="290.96" width="2.44" height="7.21" fill="#f06e72"/>
<rect x="183.03" y="290.96" width="2.44" height="7.21" fill="#f38d90"/>
<rect x="184.67" y="290.96" width="2.44" height="7.21" fill="#f17a7d"/>
<rect x="186.32" y="290.96" width="2.44" height="7.21" fill="#ef6266"/>
<rect x="187.96" y="290.96" width="2.44" height="7.21" fill="#ea3137"/>
<rect x="189.6" y="290.96" width="2.44" height="7.21" fill="#ef666a"/>
<rect x="191.25" y="290.96" width="2.44" height="7.21" fill="#e9252b"/>
<rect x="192.89" y="290.96" width="4.09" height="7.21" fill="#e81e24"/>
<rect x="196.18" y="290.96" width="2.44" height="7.21" fill="#e9292f"/>
<rect x="197.82" y="290.96" width="2.44" height="7.21" fill="#ea363b"/>
<rect x="199.47" y="290.96" width="2.44" height="7.21" fill="#f7acae"/>
<rect x="201.11" y="290.96" width="2.44" height="7.21" fill="#ed4d52"/>
<rect x="202.76" y="290.96" width="2.44" height="7.21" fill="#e9252b"/>
<rect x="204.4" y="290.96" width="2.44" height="7.21" fill="#ea2e34"/>
<rect x="206.04" y="290.96" width="5.73" height="7.21" fill="#e81e24"/>
<rect x="210.98" y="290.96" width="2.44" height="7.21" fill="#f38d90"/>
<rect x="212.62" y="290.96" width="2.44" height="7.21" fill="#f28083"/>
<rect x="214.26" y="290.96" width="2.44" height="7.21" fill="#f28286"/>
<rect x="215.91" y="290.96" width="2.44" height="7.21" fill="#e9272d"/>
<rect x="217.55" y="290.96" width="2.44" height="7.21" fill="#f1797c"/>
<rect x="219.2" y="290.96" width="2.44" height="7.21" fill="#dadceb"/>
<rect x="220.84" y="290.96" width="2.44" height="7.21" fill="#f06d70"/>
<rect x="222.48" y="290.96" width="2.44" height="7.21" fill="#f06b6f"/>
<rect x="224.13" y="290.96" width="2.44" height="7.21" fill="#e81f25"/>
<rect x="225.77" y="290.96" width="2.44" height="7.21" fill="#f17276"/>
<rect x="227.42" y="290.96" width="2.44" height="7.21" fill="#e1e2ef"/>
<rect x="229.06" y="290.96" width="2.44" height="7.21" fill="#f17579"/>
<rect x="230.7" y="290.96" width="2.44" height="7.21" fill="#e81e24"/>
<rect x="232.35" y="290.96" width="2.44" height="7.21" fill="#a0a6cc"/>
<rect x="233.99" y="290.96" width="2.44" height="7.21" fill="#6b73b0"/>
<rect x="235.64" y="290.96" width="2.44" height="7.21" fill="#adb2d3"/>
<rect x="237.28" y="290.96" width="2.44" height="7.21" fill="#ecedf5"/>
<rect x="238.92" y="290.96" width="2.44" height="7.21" fill="#f8babc"/>
<rect x="240.57" y="290.96" width="2.44" height="7.21" fill="#fde9ea"/>
<rect x="242.21" y="290.96" width="2.44" height="7.21" fill="#9ca2ca"/>
<rect x="243.86" y="290.96" width="2.44" height="7.21" fill="#5a63a7"/>
<rect x="245.5" y="290.96" width="2.44" height="7.21" fill="#888ebf"/>
<rect x="247.14" y="290.96" width="2.44" height="7.21" fill="#9ca1ca"/>
<rect x="248.79" y="290.96" width="2.44" height="7.21" fill="#9197c4"/>
<rect x="250.43" y="290.96" width="2.44" height="7.21" fill="#8188bc"/>
<rect x="252.08" y="290.96" width="2.44" height="7.21" fill="#48529d"/>
<rect x="253.72" y="290.96" width="2.44" height="7.21" fill="#8c92c1"/>
<rect x="255.36" y="290.96" width="2.44" height="7.21" fill="#969cc7"/>
<rect x="257.01" y="290.96" width="2.44" height="7.21" fill="#979cc7"/>
<rect x="258.65" y="290.96" width="2.44" height="7.21" fill="#7a81b8"/>
<rect x="260.3" y="290.96" width="2.44" height="7.21" fill="#6f77b2"/>
<rect x="261.94" y="290.96" width="2.44" height="7.21" fill="#9da3cb"/>
<rect x="263.58" y="290.96" width="2.44" height="7.21" fill="#b8bcd9"/>
<rect x="265.23" y="290.96" width="2.44" height="7.21" fill="#6d75b1"/>
<rect x="266.87" y="290.96" width="2.44" height="7.21" fill="#6c74b1"/>
<rect x="268.52" y="290.96" width="2.44" height="7.21" fill="#6b73b0"/>
<rect x="270.16" y="290.96" width="2.44" height="7.21" fill="#6d75b1"/>
<rect x="271.8" y="290.96" width="2.44" height="7.21" fill="#6c74b0"/>
<rect x="273.45" y="290.96" width="2.44" height="7.21" fill="#6a72af"/>
<rect x="275.09" y="290.96" width="2.44" height="7.21" fill="#6e76b1"/>
<rect x="276.74" y="290.96" width="2.44" height="7.21" fill="#6b73b0"/>
<rect x="278.38" y="290.96" width="2.44" height="7.21" fill="#6a73af"/>
<rect x="280.02" y="290.96" width="4.09" height="7.21" fill="#666fad"/>
<rect x="283.31" y="290.96" width="2.44" height="7.21" fill="#6b73b0"/>
<rect x="284.96" y="290.96" width="2.44" height="7.21" fill="#666fad"/>
<rect x="286.6" y="290.96" width="2.44" height="7.21" fill="#646dac"/>
<rect x="288.24" y="290.96" width="2.44" height="7.21" fill="#6870ae"/>
<rect x="289.89" y="290.96" width="2.44" height="7.21" fill="#676fae"/>
<rect x="291.53" y="290.96" width="2.44" height="7.21" fill="#6c74b0"/>
<rect x="293.18" y="290.96" width="2.44" height="7.21" fill="#727ab3"/>
<rect x="294.82" y="290.96" width="4.09" height="7.21" fill="#6e76b1"/>
<rect x="298.11" y="290.96" width="2.44" height="7.21" fill="#6f77b2"/>
<rect x="299.75" y="290.96" width="4.09" height="7.21" fill="#6e76b1"/>
<rect x="303.04" y="290.96" width="2.44" height="7.21" fill="#7179b3"/>
<rect x="304.68" y="290.96" width="2.44" height="7.21" fill="#6e76b2"/>
<rect x="306.33" y="290.96" width="2.44" height="7.21" fill="#6e76b1"/>
<rect x="307.97" y="290.96" width="2.44" height="7.21" fill="#555fa4"/>
<rect x="309.62" y="290.96" width="2.44" height="7.21" fill="#3d4897"/>
<rect x="311.26" y="290.96" width="2.44" height="7.21" fill="#5861a6"/>
<rect x="312.9" y="290.96" width="2.44" height="7.21" fill="#646dac"/>
<rect x="314.55" y="290.96" width="2.44" height="7.21" fill="#737ab4"/>
<rect x="316.19" y="290.96" width="2.44" height="7.21" fill="#8289bc"/>
<rect x="317.84" y="290.96" width="2.44" height="7.21" fill="#7a81b8"/>
<rect x="319.48" y="290.96" width="2.44" height="7.21" fill="#333e92"/>
<rect x="321.12" y="290.96" width="2.44" height="7.21" fill="#384395"/>
<rect x="322.77" y="290.96" width="2.44" height="7.21" fill="#424d9a"/>
<rect x="324.41" y="290.96" width="2.44" height="7.21" fill="#444e9b"/>
<rect x="326.06" y="290.96" width="1.64" height="7.21" fill="#616aab"/>
<rect x="163.3" y="297.37" width="58.34" height="7.21" fill="#384395"/>
<rect x="220.84" y="297.37" width="45.19" height="7.21" fill="#e92c31"/>
<rect x="265.23" y="297.37" width="43.54" height="7.21" fill="#ea2f35"/>
<rect x="307.97" y="297.37" width="19.73" height="7.21" fill="#ea3338"/>
<rect x="163.3" y="303.78" width="58.34" height="7.21" fill="#384395"/>
<rect x="220.84" y="303.78" width="32.04" height="7.21" fill="#e92c31"/>
<rect x="252.08" y="303.78" width="2.44" height="7.21" fill="#fbd7d8"/>
<rect x="253.72" y="303.78" width="2.44" height="7.21" fill="#f1797d"/>
<rect x="255.36" y="303.78" width="10.66" height="7.21" fill="#e92c31"/>
<rect x="265.23" y="303.78" width="43.54" height="7.21" fill="#ea2f35"/>
<rect x="307.97" y="303.78" width="19.73" height="7.21" fill="#ea3338"/>
<rect x="163.3" y="310.19" width="58.34" height="6.41" fill="#384395"/>
<rect x="220.84" y="310.19" width="45.19" height="6.41" fill="#e92c31"/>
<rect x="265.23" y="310.19" width="43.54" height="6.41" fill="#ea2f35"/>
<rect x="307.97" y="310.19" width="19.73" height="6.41" fill="#ea3338"/>
</g>
<path d="M244 253.3H289.5L296 254.8H327.7V256.1H244Z" fill="#111"/>
<path d="M170 254.3H212V255.3H170Z" fill="#333"/>
<path d="M165.77 258.6V257.1H167.41V258.6M166.59 257.1V256.85H169.05V258.6M164.12 258.6V256.6H167.82V256.85M172.34 258.6V257.28H173.99V258.6M170.7 258.6V256.71H173.16V257.28M165.97 256.6V255.84H171.93V256.71M175.63 258.6V257.26H177.27V258.6M176.45 257.26V256.87H178.92V258.6M182.21 258.6V257.17H183.85V258.6M183.03 257.17V256.92H185.49V258.6M180.56 258.6V256.42H184.26V256.92M177.69 256.87V255.84H182.41V256.42M168.95 255.84V255.17H180.05V255.84M187.14 258.6V257.53H188.78V258.6M187.96 257.53V256.69H190.43V258.6M192.07 258.6V257.12H193.71V258.6M189.19 256.69V256.32H192.89V257.12M195.36 258.6V257.29H197V258.6M191.04 256.32V255.96H196.18V257.29M200.29 258.6V257.42H201.93V258.6M198.65 258.6V256.88H201.11V257.42M193.61 255.96V255.39H199.88V256.88M203.58 258.6V257.17H205.22V258.6M204.4 257.17V256.8H206.87V258.6M205.63 256.8V256.37H208.51V258.6M210.15 258.6V257.15H211.8V258.6M207.07 256.37V255.99H210.98V257.15M215.09 258.6V257.46H216.73V258.6M213.44 258.6V256.72H215.91V257.46M218.37 258.6V257.17H220.02V258.6M214.68 256.72V256.19H219.2V257.17M209.02 255.99V255.34H216.94V256.19M196.75 255.39V254.53H212.98V255.34M174.5 255.17V253.4H204.86V254.53M223.31 258.6V257.58H224.95V258.6M221.66 258.6V256.75H224.13V257.58M226.59 258.6V257.43H228.24V258.6M227.42 257.43V257.11H229.88V258.6M222.89 256.75V256.26H228.65V257.11M231.53 258.6V257.58H233.17V258.6M234.81 258.6V257.4H236.46V258.6M232.35 257.58V256.76H235.64V257.4M238.1 258.6V257.17H239.75V258.6M241.39 258.6V257.12H243.03V258.6M238.92 257.17V256.72H242.21V257.12M233.99 256.76V255.5H240.57V256.72M246.32 258.6V257.3H247.97V258.6M244.68 258.6V256.87H247.14V257.3M249.61 258.6V257.29H251.25V258.6M245.91 256.87V256.35H250.43V257.29M237.28 255.5V254.95H248.17V256.35M225.77 256.26V254.6H242.73V254.95M252.9 258.6V257.45H254.54V258.6M256.19 258.6V257.59H257.83V258.6M257.01 257.59V256.87H259.47V258.6M253.72 257.45V256.18H258.24V256.87M262.76 258.6V257.29H264.41V258.6M261.12 258.6V256.84H263.58V257.29M255.98 256.18V255.75H262.35V256.84M234.25 254.6V254.2H259.17V255.75M266.05 258.6V256.76M267.69 258.6V256.07M269.34 258.6V256.75M270.98 258.6V256.56M272.63 258.6V256.82M274.27 258.6V256.42M275.91 258.6V256.85M277.56 258.6V256.89M279.2 258.6V256.03M280.85 258.6V256.07M282.49 258.6V256.81M284.13 258.6V257.16M285.78 258.6V256.3M287.42 258.6V256.55M289.07 258.6V256.71M290.71 258.6V256.38M292.35 258.6V256.44M294 258.6V256.38M295.64 258.6V256.44M297.29 258.6V256.71M298.93 258.6V256.36M300.57 258.6V256.45M302.22 258.6V256.93M303.86 258.6V256.03M305.51 258.6V256.68M307.15 258.6V256.88M308.79 258.6V256.37M310.44 258.6V256.27M312.08 258.6V256.96M313.73 258.6V256.29M315.37 258.6V256.22M317.01 258.6V256.52M318.66 258.6V256.84M320.3 258.6V256.12M321.95 258.6V256.39M323.59 258.6V256.4M325.23 258.6V257M326.88 258.6V256.53M191.5 248.2V240H273V249.4M165 253.4V248.2H193.8V250.4M167 253.8V250.4H200V252M169.5 254.2V252H212V253.6M219.6 255.6V249.4H284.7V252.3M223.5 254.5V251H242.8V253.5M243.5 253.5V252.3H290" fill="none" stroke="#111" stroke-width="0.5"/>
<rect x="318" y="242.7" width="31.8" height="3.2" fill="url(#cbar)"/>
<text x="314.8" y="251.5" font-size="5.2" fill="#222" text-anchor="middle">column min</text>
<text x="355.5" y="251.5" font-size="5.2" fill="#222" text-anchor="middle">column max</text>
<text x="328.7" y="263.5" font-size="5.4" fill="#111">iPSC_WT-r2</text>
<text x="328.7" y="270.1" font-size="5.4" fill="#111">iPSC_WT-r3</text>
<text x="328.7" y="276.6" font-size="5.4" fill="#111">iPSC_WT-r1</text>
<text x="328.7" y="283.5" font-size="5.4" fill="#111">iPSC_siCTRL-r2</text>
<text x="328.7" y="289.9" font-size="5.4" fill="#111">iPSC_siCTRL-r1</text>
<text x="328.7" y="296.5" font-size="5.4" fill="#111">iPSC_siCTRL-r3</text>
<text x="328.7" y="303.7" font-size="5.4" fill="#111">iPSC_siTRIM28-r3</text>
<text x="328.7" y="310.1" font-size="5.4" fill="#111">iPSC_siTRIM28-r1</text>
<text x="328.7" y="316.5" font-size="5.4" fill="#111">iPSC_siTRIM28-r2</text>
<path d="M362.4 261.6H370.1V271.6M362.4 268.2H366.1V274.7H362.4M366.1 271.5H370.1M370.1 268.6H379.6V294.6H369.6M371.0 281.6H375.4V288.0H371.0M375.4 284.8H379.6M375.4 301.8H380.1V311.4M375.4 308.2H378.4V314.6H375.4M378.4 311.4H380.1" fill="none" stroke="#111" stroke-width="0.7"/>
<text x="8.8" y="338.4" font-size="7" fill="#000" font-weight="bold">E.</text>
<text x="106.2" y="337.6" font-size="6.25" fill="#111" text-anchor="middle" font-weight="bold">GO_BP terms UP-REGULATED in iPSC_siTRIM28</text>
<text x="105" y="344.5" font-size="6.15" fill="#111" text-anchor="middle" font-weight="bold">relative to iPSC_WT/siCTRL</text>
<text x="127.4" y="354.25" font-size="4.55" fill="#222" text-anchor="end">intrinsic apoptotic signaling pathway (19)</text>
<rect x="129.3" y="350.9" width="49.5" height="3.6" fill="#8b0f1c" stroke="#666" stroke-width="0.35"/>
<text x="127.4" y="359.2" font-size="4.55" fill="#222" text-anchor="end">negative regulation of apoptotic process (28)</text>
<rect x="129.3" y="355.85" width="21.5" height="3.6" fill="#8b0f1c" stroke="#666" stroke-width="0.35"/>
<text x="127.4" y="364.15" font-size="4.55" fill="#222" text-anchor="end">negative regulation of cell death (27)</text>
<rect x="129.3" y="360.8" width="20.5" height="3.6" fill="#8b0f1c" stroke="#666" stroke-width="0.35"/>
<text x="127.4" y="369.1" font-size="4.55" fill="#222" text-anchor="end">regulation of apoptotic process (36)</text>
<rect x="129.3" y="365.75" width="17.9" height="3.6" fill="#8b0f1c" stroke="#666" stroke-width="0.35"/>
<text x="127.4" y="374.05" font-size="4.55" fill="#222" text-anchor="end">regulation of programmed cell death (38)</text>
<rect x="129.3" y="370.7" width="17.7" height="3.6" fill="#8b0f1c" stroke="#666" stroke-width="0.35"/>
<text x="127.4" y="379" font-size="4.55" fill="#222" text-anchor="end">regulation of cell death (37)</text>
<rect x="129.3" y="375.65" width="16.9" height="3.6" fill="#8b0f1c" stroke="#666" stroke-width="0.35"/>
<text x="127.4" y="383.95" font-size="4.55" fill="#222" text-anchor="end">apoptotic process (42)</text>
<rect x="129.3" y="380.6" width="16.9" height="3.6" fill="#8b0f1c" stroke="#666" stroke-width="0.35"/>
<text x="127.4" y="390.9" font-size="4.55" fill="#222" text-anchor="end">gland development (20)</text>
<rect x="129.3" y="387.55" width="34.1" height="3.6" fill="#f47b62" stroke="#666" stroke-width="0.35"/>
<text x="127.4" y="395.85" font-size="4.55" fill="#222" text-anchor="end">positive regulation of cellular component organization (30)</text>
<rect x="129.3" y="392.5" width="18.7" height="3.6" fill="#f47b62" stroke="#666" stroke-width="0.35"/>
<text x="127.4" y="400.8" font-size="4.55" fill="#222" text-anchor="end">positive regulation of developmental process (31)</text>
<rect x="129.3" y="397.45" width="17.7" height="3.6" fill="#f47b62" stroke="#666" stroke-width="0.35"/>
<text x="127.4" y="405.75" font-size="4.55" fill="#222" text-anchor="end">positive regulation of multicellular organismal process (37)</text>
<rect x="129.3" y="402.4" width="16.7" height="3.6" fill="#f47b62" stroke="#666" stroke-width="0.35"/>
<text x="127.4" y="412.7" font-size="4.55" fill="#222" text-anchor="end">negative regulation of intracellular signal transduction (22)</text>
<rect x="129.3" y="409.35" width="33.5" height="3.6" fill="#f4a428" stroke="#666" stroke-width="0.35"/>
<text x="127.4" y="417.65" font-size="4.55" fill="#222" text-anchor="end">regulation of intracellular signal transduction (38)</text>
<rect x="129.3" y="414.3" width="15" height="3.6" fill="#f4a428" stroke="#666" stroke-width="0.35"/>
<text x="127.4" y="424.6" font-size="4.55" fill="#222" text-anchor="end">negative regulation of cell cycle (22)</text>
<rect x="129.3" y="421.25" width="29.5" height="3.6" fill="#f3e04a" stroke="#666" stroke-width="0.35"/>
<text x="127.4" y="429.55" font-size="4.55" fill="#222" text-anchor="end">regulation of cell cycle (33)</text>
<rect x="129.3" y="426.2" width="22.4" height="3.6" fill="#f3e04a" stroke="#666" stroke-width="0.35"/>
<text x="127.4" y="434.5" font-size="4.55" fill="#222" text-anchor="end">cell cycle (37)</text>
<rect x="129.3" y="431.15" width="16.2" height="3.6" fill="#f3e04a" stroke="#666" stroke-width="0.35"/>
<text x="127.4" y="441.45" font-size="4.55" fill="#222" text-anchor="end">cellular response to DNA damage stimulus (27)</text>
<rect x="129.3" y="438.1" width="24.8" height="3.6" fill="#8cbf45" stroke="#666" stroke-width="0.35"/>
<text x="127.4" y="446.4" font-size="4.55" fill="#222" text-anchor="end">regulation of response to stress (33)</text>
<rect x="129.3" y="443.05" width="18.7" height="3.6" fill="#8cbf45" stroke="#666" stroke-width="0.35"/>
<text x="127.4" y="451.35" font-size="4.55" fill="#222" text-anchor="end">cellular response to stress (45)</text>
<rect x="129.3" y="448" width="18" height="3.6" fill="#8cbf45" stroke="#666" stroke-width="0.35"/>
<text x="127.4" y="458.3" font-size="4.55" fill="#222" text-anchor="end">response to abiotic stimulus (35)</text>
<rect x="129.3" y="454.95" width="23.3" height="3.6" fill="#3a9e78" stroke="#666" stroke-width="0.35"/>
<text x="127.4" y="463.25" font-size="4.55" fill="#222" text-anchor="end">response to organic cyclic compound (27)</text>
<rect x="129.3" y="459.9" width="22.4" height="3.6" fill="#3a9e78" stroke="#666" stroke-width="0.35"/>
<text x="127.4" y="468.2" font-size="4.55" fill="#222" text-anchor="end">response to drug (27)</text>
<rect x="129.3" y="464.85" width="20.5" height="3.6" fill="#3a9e78" stroke="#666" stroke-width="0.35"/>
<text x="127.4" y="475.15" font-size="4.55" fill="#222" text-anchor="end">regulation of cell proliferation (34)</text>
<rect x="129.3" y="471.8" width="16.7" height="3.6" fill="#17503c" stroke="#666" stroke-width="0.35"/>
<text x="127.4" y="480.1" font-size="4.55" fill="#222" text-anchor="end">cell proliferation (39)</text>
<rect x="129.3" y="476.75" width="14.7" height="3.6" fill="#17503c" stroke="#666" stroke-width="0.35"/>
<text x="127.4" y="487.05" font-size="4.55" fill="#222" text-anchor="end">regulation of protein modification process (38)</text>
<rect x="129.3" y="483.7" width="15.2" height="3.6" fill="#0c1a22" stroke="#666" stroke-width="0.35"/>
<line x1="129" y1="350.72" x2="129" y2="488.1" stroke="#444" stroke-width="0.45"/>
<line x1="129" y1="488.1" x2="188.2" y2="488.1" stroke="#444" stroke-width="0.45"/>
<line x1="129" y1="488.1" x2="129" y2="489.1" stroke="#444" stroke-width="0.4"/>
<text x="129" y="493.3" font-size="3.4" fill="#444" text-anchor="middle">0</text>
<line x1="148.8" y1="488.1" x2="148.8" y2="489.1" stroke="#444" stroke-width="0.4"/>
<text x="148.8" y="493.3" font-size="3.4" fill="#444" text-anchor="middle">5</text>
<line x1="168.5" y1="488.1" x2="168.5" y2="489.1" stroke="#444" stroke-width="0.4"/>
<text x="168.5" y="493.3" font-size="3.4" fill="#444" text-anchor="middle">10</text>
<line x1="188.2" y1="488.1" x2="188.2" y2="489.1" stroke="#444" stroke-width="0.4"/>
<text x="188.2" y="493.3" font-size="3.4" fill="#444" text-anchor="middle">15</text>
<text x="158.6" y="500.5" font-size="6.4" fill="#222" text-anchor="middle">Enrichment Ratio</text>
<rect x="29.3" y="507.35" width="4.5" height="4.5" fill="#8b0f1c" stroke="#555" stroke-width="0.3"/>
<text x="37.4" y="511.3" font-size="5" fill="#222">apoptosis</text>
<rect x="29.3" y="516.15" width="4.5" height="4.5" fill="#f47b62" stroke="#555" stroke-width="0.3"/>
<text x="37.4" y="520.1" font-size="5" fill="#222">differentiation</text>
<rect x="29.3" y="525.05" width="4.5" height="4.5" fill="#f4a428" stroke="#555" stroke-width="0.3"/>
<text x="37.4" y="529" font-size="5" fill="#222">signal transduction</text>
<rect x="29.3" y="533.65" width="4.5" height="4.5" fill="#f3e04a" stroke="#555" stroke-width="0.3"/>
<text x="37.4" y="537.6" font-size="5" fill="#222">cell cycle</text>
<rect x="89" y="507.35" width="4.5" height="4.5" fill="#8cbf45" stroke="#555" stroke-width="0.3"/>
<text x="97.1" y="511.3" font-size="5" fill="#222">stress &amp; DNA damage</text>
<rect x="89" y="516.15" width="4.5" height="4.5" fill="#3a9e78" stroke="#555" stroke-width="0.3"/>
<text x="97.1" y="520.1" font-size="5" fill="#222">cell response</text>
<rect x="89" y="525.05" width="4.5" height="4.5" fill="#17503c" stroke="#555" stroke-width="0.3"/>
<text x="97.1" y="529" font-size="5" fill="#222">proliferation</text>
<rect x="89" y="533.65" width="4.5" height="4.5" fill="#0c1a22" stroke="#555" stroke-width="0.3"/>
<text x="97.1" y="537.6" font-size="5" fill="#222">protein modification</text>
<text x="203" y="338.4" font-size="7" fill="#000" font-weight="bold">F.</text>
<text x="298.2" y="337.9" font-size="6.15" fill="#111" text-anchor="middle" font-weight="bold">GO_BP terms UP-REGULATED in iPSC_WT/siCTRL</text>
<text x="299.7" y="344.4" font-size="6.15" fill="#111" text-anchor="middle" font-weight="bold">relative to iPSC_siTRIM28</text>
<text x="318" y="353.85" font-size="4.55" fill="#222" text-anchor="end">negative regulation of neuron death (11)</text>
<rect x="319.9" y="350.55" width="51" height="3.5" fill="#4b0b2d" stroke="#444" stroke-width="0.35"/>
<text x="318" y="358.75" font-size="4.55" fill="#222" text-anchor="end">regulation of neuron death (12)</text>
<rect x="319.9" y="355.45" width="37.9" height="3.5" fill="#4b0b2d" stroke="#444" stroke-width="0.35"/>
<text x="318" y="363.65" font-size="4.55" fill="#222" text-anchor="end">neuron death (13)</text>
<rect x="319.9" y="360.35" width="36.6" height="3.5" fill="#4b0b2d" stroke="#444" stroke-width="0.35"/>
<text x="318" y="370.55" font-size="4.55" fill="#222" text-anchor="end">cellular response to organonitrogen compound (17)</text>
<rect x="319.9" y="367.25" width="27.5" height="3.5" fill="#a8124f" stroke="#444" stroke-width="0.35"/>
<text x="318" y="375.45" font-size="4.55" fill="#222" text-anchor="end">cellular response to nitrogen compound (17)</text>
<rect x="319.9" y="372.15" width="25.1" height="3.5" fill="#a8124f" stroke="#444" stroke-width="0.35"/>
<text x="318" y="380.35" font-size="4.55" fill="#222" text-anchor="end">response to organonitrogen compound (19)</text>
<rect x="319.9" y="377.05" width="18" height="3.5" fill="#a8124f" stroke="#444" stroke-width="0.35"/>
<text x="318" y="385.25" font-size="4.55" fill="#222" text-anchor="end">response to nitrogen compound (19)</text>
<rect x="319.9" y="381.95" width="16.8" height="3.5" fill="#a8124f" stroke="#444" stroke-width="0.35"/>
<text x="318" y="390.15" font-size="4.55" fill="#222" text-anchor="end">cellular response to oxygen-containing compound (19)</text>
<rect x="319.9" y="386.85" width="15.8" height="3.5" fill="#a8124f" stroke="#444" stroke-width="0.35"/>
<text x="318" y="397.05" font-size="4.55" fill="#222" text-anchor="end">negative regulation of cell death (20)</text>
<rect x="319.9" y="393.75" width="18" height="3.5" fill="#c27a48" stroke="#444" stroke-width="0.35"/>
<text x="318" y="401.95" font-size="4.55" fill="#222" text-anchor="end">negative regulation of programmed cell death (18)</text>
<rect x="319.9" y="398.65" width="17.4" height="3.5" fill="#c27a48" stroke="#444" stroke-width="0.35"/>
<text x="318" y="408.85" font-size="4.55" fill="#222" text-anchor="end">positive regulation of phosphate metabolic process (19)</text>
<rect x="319.9" y="405.55" width="15.4" height="3.5" fill="#f7c678" stroke="#444" stroke-width="0.35"/>
<text x="318" y="413.75" font-size="4.55" fill="#222" text-anchor="end">positive regulation of phosphorus metabolic process (19)</text>
<rect x="319.9" y="410.45" width="15.3" height="3.5" fill="#f7c678" stroke="#444" stroke-width="0.35"/>
<text x="318" y="418.65" font-size="4.55" fill="#222" text-anchor="end">regulation of phosphate metabolic process (26)</text>
<rect x="319.9" y="415.35" width="13.5" height="3.5" fill="#f7c678" stroke="#444" stroke-width="0.35"/>
<text x="318" y="423.55" font-size="4.55" fill="#222" text-anchor="end">regulation of phosphorus metabolic process (26)</text>
<rect x="319.9" y="420.25" width="13.5" height="3.5" fill="#f7c678" stroke="#444" stroke-width="0.35"/>
<text x="318" y="430.45" font-size="4.55" fill="#222" text-anchor="end">cellular response to endogenous stimulus (23)</text>
<rect x="319.9" y="427.15" width="15.3" height="3.5" fill="#bde19a" stroke="#444" stroke-width="0.35"/>
<text x="318" y="435.35" font-size="4.55" fill="#222" text-anchor="end">response to endogenous stimulus (23)</text>
<rect x="319.9" y="432.05" width="12.8" height="3.5" fill="#bde19a" stroke="#444" stroke-width="0.35"/>
<text x="318" y="442.25" font-size="4.55" fill="#222" text-anchor="end">regulation of protein phosphorylation (23)</text>
<rect x="319.9" y="438.95" width="14.9" height="3.5" fill="#8da2bb" stroke="#444" stroke-width="0.35"/>
<text x="318" y="447.15" font-size="4.55" fill="#222" text-anchor="end">regulation of phosphorylation (24)</text>
<rect x="319.9" y="443.85" width="14.6" height="3.5" fill="#8da2bb" stroke="#444" stroke-width="0.35"/>
<text x="318" y="452.05" font-size="4.55" fill="#222" text-anchor="end">protein phosphorylation (27)</text>
<rect x="319.9" y="448.75" width="12.8" height="3.5" fill="#8da2bb" stroke="#444" stroke-width="0.35"/>
<text x="318" y="458.95" font-size="4.55" fill="#222" text-anchor="end">regulation of cell proliferation (25)</text>
<rect x="319.9" y="455.65" width="14.3" height="3.5" fill="#0f2f3b" stroke="#444" stroke-width="0.35"/>
<text x="318" y="463.85" font-size="4.55" fill="#222" text-anchor="end">cell proliferation (26)</text>
<rect x="319.9" y="460.55" width="11.9" height="3.5" fill="#0f2f3b" stroke="#444" stroke-width="0.35"/>
<text x="318" y="470.75" font-size="4.55" fill="#222" text-anchor="end">positive regulation of cellular protein metabolic process (22)</text>
<rect x="319.9" y="467.45" width="12.8" height="3.5" fill="#7b3b4a" stroke="#444" stroke-width="0.35"/>
<text x="318" y="475.65" font-size="4.55" fill="#222" text-anchor="end">regulation of protein modification process (24)</text>
<rect x="319.9" y="472.35" width="12.1" height="3.5" fill="#7b3b4a" stroke="#444" stroke-width="0.35"/>
<text x="318" y="480.55" font-size="4.55" fill="#222" text-anchor="end">positive regulation of protein metabolic process (22)</text>
<rect x="319.9" y="477.25" width="12.1" height="3.5" fill="#7b3b4a" stroke="#444" stroke-width="0.35"/>
<text x="318" y="487.45" font-size="4.55" fill="#222" text-anchor="end">regulation of intracellular signal transduction (24)</text>
<rect x="319.9" y="484.15" width="11.3" height="3.5" fill="#cbbd9c" stroke="#444" stroke-width="0.35"/>
<line x1="319.6" y1="350.35" x2="319.6" y2="488.3" stroke="#444" stroke-width="0.45"/>
<line x1="319.6" y1="488.3" x2="378.6" y2="488.3" stroke="#444" stroke-width="0.45"/>
<line x1="319.6" y1="488.3" x2="319.6" y2="489.3" stroke="#444" stroke-width="0.4"/>
<text x="319.6" y="492" font-size="3.4" fill="#444" text-anchor="middle">0</text>
<line x1="331.6" y1="488.3" x2="331.6" y2="489.3" stroke="#444" stroke-width="0.4"/>
<text x="331.6" y="492" font-size="3.4" fill="#444" text-anchor="middle">5</text>
<line x1="343.3" y1="488.3" x2="343.3" y2="489.3" stroke="#444" stroke-width="0.4"/>
<text x="343.3" y="492" font-size="3.4" fill="#444" text-anchor="middle">10</text>
<line x1="355.1" y1="488.3" x2="355.1" y2="489.3" stroke="#444" stroke-width="0.4"/>
<text x="355.1" y="492" font-size="3.4" fill="#444" text-anchor="middle">15</text>
<line x1="367" y1="488.3" x2="367" y2="489.3" stroke="#444" stroke-width="0.4"/>
<text x="367" y="492" font-size="3.4" fill="#444" text-anchor="middle">20</text>
<line x1="378.6" y1="488.3" x2="378.6" y2="489.3" stroke="#444" stroke-width="0.4"/>
<text x="378.6" y="492" font-size="3.4" fill="#444" text-anchor="middle">25</text>
<text x="349.2" y="501.2" font-size="6.4" fill="#222" text-anchor="middle">Enrichment Ratio</text>
<rect x="228.1" y="507.2" width="4.3" height="4.3" fill="#4b0b2d" stroke="#555" stroke-width="0.3"/>
<text x="235.8" y="511" font-size="5" fill="#222">regulation of neuron death</text>
<rect x="228.1" y="515.9" width="4.3" height="4.3" fill="#a8124f" stroke="#555" stroke-width="0.3"/>
<text x="235.8" y="519.7" font-size="5" fill="#222">response to nitrogen and oxygen</text>
<rect x="228.1" y="525" width="4.3" height="4.3" fill="#c27a48" stroke="#555" stroke-width="0.3"/>
<text x="235.8" y="528.8" font-size="5" fill="#222">negative regulation of apoptosis</text>
<rect x="228.1" y="533.8" width="4.3" height="4.3" fill="#f7c678" stroke="#555" stroke-width="0.3"/>
<text x="235.8" y="537.6" font-size="5" fill="#222">phosphorus metabolism</text>
<rect x="228.1" y="542.4" width="4.3" height="4.3" fill="#bde19a" stroke="#555" stroke-width="0.3"/>
<text x="235.8" y="546.2" font-size="5" fill="#222">response to endogenous stimulus</text>
<rect x="316" y="507.3" width="4.3" height="4.3" fill="#8da2bb" stroke="#555" stroke-width="0.3"/>
<text x="323.7" y="511.1" font-size="5" fill="#222">protein phosphorylation</text>
<rect x="316" y="515.9" width="4.3" height="4.3" fill="#0f2f3b" stroke="#555" stroke-width="0.3"/>
<text x="323.7" y="519.7" font-size="5" fill="#222">proliferation</text>
<rect x="316" y="524.9" width="4.3" height="4.3" fill="#7b3b4a" stroke="#555" stroke-width="0.3"/>
<text x="323.7" y="528.7" font-size="5" fill="#222">protein metabolism</text>
<rect x="316" y="534.1" width="4.3" height="4.3" fill="#cbbd9c" stroke="#555" stroke-width="0.3"/>
<text x="323.7" y="537.9" font-size="5" fill="#222">signal transduction</text></svg></body></html>
